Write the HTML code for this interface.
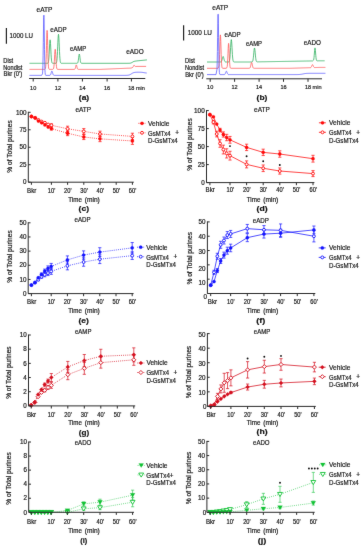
<!DOCTYPE html>
<html><head><meta charset="utf-8"><title>Figure</title>
<style>
html,body{margin:0;padding:0;background:#fff;width:363px;height:550px;overflow:hidden;}
svg{display:block;will-change:transform;}
text{font-family:"Liberation Sans",sans-serif;stroke:#1a1a1a;stroke-width:0.2px;}
</style></head>
<body>
<svg xmlns="http://www.w3.org/2000/svg" width="363" height="550" viewBox="0 0 363 550">
<defs><filter id="soft" x="0" y="0" width="363" height="550" filterUnits="userSpaceOnUse" color-interpolation-filters="sRGB"><feConvolveMatrix order="3" kernelMatrix="0.01 0.05 0.01 0.05 0.76 0.05 0.01 0.05 0.01" divisor="1" edgeMode="duplicate"/></filter></defs>
<g filter="url(#soft)">
<rect x="0" y="0" width="363" height="550" fill="#fff"/>
<line x1="6.4" y1="27.9" x2="6.4" y2="43.7" stroke="#222" stroke-width="1.2"/>
<text x="9.6" y="38.2" font-size="6.8" text-anchor="start" fill="#1a1a1a" textLength="23.4" lengthAdjust="spacingAndGlyphs">1000 LU</text>
<text x="44.5" y="12.4" font-size="6.8" text-anchor="middle" fill="#1a1a1a" textLength="15.9" lengthAdjust="spacingAndGlyphs">eATP</text>
<text x="58.5" y="32" font-size="6.8" text-anchor="middle" fill="#1a1a1a" textLength="16.3" lengthAdjust="spacingAndGlyphs">eADP</text>
<text x="78.1" y="51.4" font-size="6.8" text-anchor="middle" fill="#1a1a1a" textLength="16.1" lengthAdjust="spacingAndGlyphs">eAMP</text>
<text x="135" y="53.8" font-size="6.8" text-anchor="middle" fill="#1a1a1a" textLength="17.4" lengthAdjust="spacingAndGlyphs">eADO</text>
<text x="3.3" y="62.7" font-size="6.4" text-anchor="start" fill="#1a1a1a" textLength="9.9" lengthAdjust="spacingAndGlyphs">Dist</text>
<text x="3.3" y="69.5" font-size="6.4" text-anchor="start" fill="#1a1a1a" textLength="19.1" lengthAdjust="spacingAndGlyphs">Nondist</text>
<text x="3.5" y="76" font-size="6.4" text-anchor="start" fill="#1a1a1a" textLength="18.6" lengthAdjust="spacingAndGlyphs">Bkr (0')</text>
<polyline points="29.5,63.3 30.5,63.3 31.5,63.3 32.5,63.3 33.5,63.3 34.5,63.3 35.5,63.3 36.5,63.3 37.5,63.3 38.5,63.3 39.5,63.3 40.5,63.3 41.5,63.3 42.5,63.3 43.5,63.3 44.5,63.3 45.5,63.3 46.5,63.3 47.5,63.28 47.7,63.23 47.9,63.13 48.1,62.9 48.3,62.44 48.5,61.58 48.7,60.12 48.9,57.89 49.1,54.83 49.3,51.07 49.5,47.02 49.7,43.34 49.9,40.74 50.1,39.8 50.3,40.74 50.5,43.34 50.7,47.02 50.9,51.07 51.1,54.83 51.3,57.89 51.5,60.12 51.7,61.58 51.9,62.44 52.1,62.9 52.3,63.13 52.5,63.23 52.7,63.28 52.9,63.29 53.9,63.3 54.9,63.3 55.9,63.23 56.1,63.13 56.3,62.91 56.5,62.47 56.7,61.67 56.9,60.32 57.1,58.22 57.3,55.24 57.5,51.38 57.7,46.88 57.9,42.24 58.1,38.14 58.3,35.31 58.5,34.3 58.7,35.31 58.9,38.14 59.1,42.24 59.3,46.88 59.5,51.38 59.7,55.24 59.9,58.22 60.1,60.32 60.3,61.67 60.5,62.47 60.7,62.91 60.9,63.13 61.1,63.23 61.3,63.27 61.5,63.29 62.5,63.3 63.5,63.3 64.5,63.3 65.5,63.3 66.5,63.3 67.5,63.3 68.5,63.3 69.5,63.3 70.5,63.3 71.5,63.3 72.5,63.3 73.5,63.3 74.5,63.3 75.5,63.3 76.5,63.3 77.5,63.1 77.7,62.85 77.9,62.39 78.1,61.61 78.3,60.45 78.5,58.94 78.7,57.23 78.9,55.6 79.1,54.43 79.3,54 79.5,54.43 79.7,55.6 79.9,57.23 80.1,58.94 80.3,60.45 80.5,61.61 80.7,62.39 80.9,62.85 81.1,63.1 81.3,63.22 81.5,63.27 81.7,63.29 81.9,63.3 82.9,63.3 83.9,63.3 84.9,63.3 85.9,63.3 86.9,63.3 87.9,63.3 88.9,63.3 89.9,63.3 90.9,63.3 91.9,63.3 92.9,63.3 93.9,63.3 94.9,63.3 95.9,63.3 96.9,63.3 97.9,63.3 98.9,63.3 99.9,63.3 100.9,63.3 101.9,63.3 102.9,63.3 103.9,63.3 104.9,63.3 105.9,63.3 106.9,63.3 107.9,63.3 108.9,63.3 109.9,63.3 110.9,63.3 111.9,63.3 112.9,63.3 113.9,63.3 114.9,63.3 115.9,63.3 116.9,63.3 117.9,63.3 118.9,63.3 119.9,63.3 120.9,63.3 121.9,63.3 122.9,63.3 123.9,63.3 124.9,63.3 125.9,63.3 126.9,63.3 127.9,63.29 128.9,63.28 129.9,63.22 130.9,63.04 131.9,62.59 132.9,61.93 133.9,61.43 134.9,61.2 135.9,61.04 136.9,60.92 137.9,60.81 138.9,60.71 139.9,60.61 140.9,60.51 141.9,60.41 142.9,60.31 143.9,60.21 144.9,60.11 145.9,60.01 146.9,59.91" fill="none" stroke="#30b060" stroke-width="0.8" stroke-linejoin="round"/>
<polyline points="29.5,69.4 30.5,69.4 31.5,69.4 32.5,69.4 33.5,69.4 34.5,69.4 35.5,69.4 36.5,69.4 37.5,69.4 38.5,69.4 39.5,69.4 40.5,69.4 41.5,69.4 42.5,69.4 43.5,69.4 44.5,69.4 45.5,68.29 45.7,66.84 45.9,64.12 46.1,59.68 46.3,53.37 46.5,45.75 46.7,38.17 46.9,32.51 47.1,30.4 47.3,32.51 47.5,38.17 47.7,45.75 47.9,53.37 48.1,59.68 48.3,64.12 48.5,66.84 48.7,68.29 48.9,68.97 49.1,69.25 49.3,69.35 49.5,69.39 50.5,69.4 51.5,69.4 52.5,69.4 53.5,68.74 53.7,67.98 53.9,66.65 54.1,64.55 54.3,61.62 54.5,58.03 54.7,54.3 54.9,51.15 55.1,49.34 55.3,49.34 55.5,51.15 55.7,54.3 55.9,58.03 56.1,61.62 56.3,64.55 56.5,66.65 56.7,67.98 56.9,68.74 57.1,69.12 57.3,69.29 57.5,69.36 57.7,69.39 57.9,69.4 58.9,69.4 59.9,69.4 60.9,69.4 61.9,69.4 62.9,69.4 63.9,69.4 64.9,69.4 65.9,69.4 66.9,69.4 67.9,69.4 68.9,69.4 69.9,69.4 70.9,69.4 71.9,69.4 72.9,69.4 73.9,69.4 74.1,69.39 74.3,69.38 74.5,69.35 74.7,69.27 74.9,69.1 75.1,68.79 75.3,68.28 75.5,67.55 75.7,66.67 75.9,65.8 76.1,65.14 76.3,64.9 76.5,65.14 76.7,65.8 76.9,66.67 77.1,67.55 77.3,68.28 77.5,68.79 77.7,69.1 77.9,69.27 78.1,69.35 78.3,69.38 78.5,69.39 78.7,69.4 79.7,69.4 80.7,69.4 81.7,69.4 82.7,69.4 83.7,69.4 84.7,69.4 85.7,69.4 86.7,69.4 87.7,69.4 88.7,69.4 89.7,69.4 90.7,69.4 91.7,69.4 92.7,69.4 93.7,69.4 94.7,69.4 95.7,69.4 96.7,69.4 97.7,69.4 98.7,69.4 99.7,69.4 100.7,69.37 101.7,69.33 102.7,69.28 103.7,69.24 104.7,69.2 105.7,69.16 106.7,69.11 107.7,69.07 108.7,69.03 109.7,68.98 110.7,68.94 111.7,68.9 112.7,68.86 113.7,68.81 114.7,68.77 115.7,68.73 116.7,68.68 117.7,68.64 118.7,68.6 119.7,68.56 120.7,68.51 121.7,68.47 122.7,68.43 123.7,68.38 124.7,68.34 125.7,68.3 126.7,68.26 127.7,68.21 128.7,68.19 129.7,68.17 130.7,68.1 131.7,67.9 132.7,67.41 132.9,67.21 133.1,66.93 133.3,66.53 133.5,66.06 133.7,65.59 133.9,65.27 134.1,65.19 134.3,65.36 134.5,65.67 134.7,65.99 134.9,66.24 135.1,66.38 135.3,66.44 135.5,66.46 135.7,66.45 135.9,66.45 136.1,66.44 137.1,66.41 138.1,66.4 139.1,66.4 140.1,66.4 141.1,66.4 142.1,66.4 143.1,66.4 144.1,66.4 145.1,66.4 146.1,66.4" fill="none" stroke="#ff5a5a" stroke-width="0.8" stroke-linejoin="round"/>
<polyline points="29.5,75.4 30.5,75.4 31.5,75.4 32.5,75.4 33.5,75.4 34.5,75.4 35.5,75.4 36.5,75.4 37.5,75.4 38.5,75.4 39.5,75.4 40.5,75.4 41.5,75.4 42.5,73.82 42.7,71.1 42.9,65.45 43.1,55.76 43.3,42.36 43.5,28.05 43.7,17.56 43.9,15.2 44.1,22.01 44.3,35.05 44.5,49.41 44.7,61.14 44.9,68.73 45.1,72.74 45.3,74.5 45.5,75.14 45.7,75.34 45.9,75.39 46.9,75.4 47.9,75.4 48.9,75.4 49.9,75.33 50.1,75.24 50.3,75.08 50.5,74.82 50.7,74.41 50.9,73.85 51.1,73.16 51.3,72.42 51.5,71.75 51.7,71.27 51.9,71.1 52.1,71.27 52.3,71.75 52.5,72.42 52.7,73.16 52.9,73.85 53.1,74.41 53.3,74.82 53.5,75.08 53.7,75.24 53.9,75.33 54.1,75.37 54.3,75.39 54.5,75.4 54.7,75.4 55.7,75.4 56.7,75.4 57.7,75.4 58.7,75.4 59.7,75.4 60.7,75.4 61.7,75.4 62.7,75.4 63.7,75.4 64.7,75.4 65.7,75.4 66.7,75.4 67.7,75.4 68.7,75.4 69.7,75.4 70.7,75.4 71.7,75.4 72.7,75.4 73.7,75.4 74.7,75.4 75.7,75.4 76.7,75.4 77.7,75.4 78.7,75.4 79.7,75.4 80.7,75.4 81.7,75.4 82.7,75.4 83.7,75.4 84.7,75.4 85.7,75.4 86.7,75.4 87.7,75.4 88.7,75.4 89.7,75.4 90.7,75.4 91.7,75.4 92.7,75.4 93.7,75.4 94.7,75.4 95.7,75.4 96.7,75.4 97.7,75.4 98.7,75.4 99.7,75.4 100.7,75.4 101.7,75.4 102.7,75.4 103.7,75.4 104.7,75.4 105.7,75.4 106.7,75.4 107.7,75.4 108.7,75.4 109.7,75.4 110.7,75.4 111.7,75.4 112.7,75.4 113.7,75.4 114.7,75.4 115.7,75.4 116.7,75.4 117.7,75.4 118.7,75.4 119.7,75.4 120.7,75.4 121.7,75.4 122.7,75.4 123.7,75.4 124.7,75.39 125.7,75.37 126.7,75.34 127.7,75.27 128.7,75.12 129.7,74.82 130.7,74.31 131.7,73.67 132.7,73.06 133.7,72.64 134.7,72.41 135.7,72.29 136.7,72.24 137.7,72.22 138.7,72.22 139.7,72.23 140.7,72.26 141.7,72.32 142.7,72.43 143.7,72.59 144.7,72.78 145.7,72.92 146.7,73.01" fill="none" stroke="#5c5cff" stroke-width="0.8" stroke-linejoin="round"/>
<line x1="29.1" y1="78.5" x2="145.3" y2="78.5" stroke="#2a2a2a" stroke-width="1"/>
<line x1="33.2" y1="78.5" x2="33.2" y2="81.5" stroke="#2a2a2a" stroke-width="1"/>
<text x="33.2" y="89.6" font-size="6.2" text-anchor="middle" fill="#1a1a1a" textLength="6.2" lengthAdjust="spacingAndGlyphs">10</text>
<line x1="57.9" y1="78.5" x2="57.9" y2="81.5" stroke="#2a2a2a" stroke-width="1"/>
<text x="57.9" y="89.6" font-size="6.2" text-anchor="middle" fill="#1a1a1a" textLength="6.2" lengthAdjust="spacingAndGlyphs">12</text>
<line x1="82.4" y1="78.5" x2="82.4" y2="81.5" stroke="#2a2a2a" stroke-width="1"/>
<text x="82.4" y="89.6" font-size="6.2" text-anchor="middle" fill="#1a1a1a" textLength="6.2" lengthAdjust="spacingAndGlyphs">14</text>
<line x1="107.1" y1="78.5" x2="107.1" y2="81.5" stroke="#2a2a2a" stroke-width="1"/>
<text x="107.1" y="89.6" font-size="6.2" text-anchor="middle" fill="#1a1a1a" textLength="6.2" lengthAdjust="spacingAndGlyphs">16</text>
<line x1="131.4" y1="78.5" x2="131.4" y2="81.5" stroke="#2a2a2a" stroke-width="1"/>
<text x="128.3" y="89.6" font-size="6.2" text-anchor="start" fill="#1a1a1a" textLength="16.6" lengthAdjust="spacingAndGlyphs">18 min</text>
<text x="84" y="100.4" font-size="7.6" text-anchor="middle" fill="#111" textLength="10.4" lengthAdjust="spacingAndGlyphs" font-weight="bold">(a)</text>
<line x1="183.6" y1="25.2" x2="183.6" y2="40.6" stroke="#222" stroke-width="1.2"/>
<text x="187.7" y="35.3" font-size="6.8" text-anchor="start" fill="#1a1a1a" textLength="24.2" lengthAdjust="spacingAndGlyphs">1000 LU</text>
<text x="220.2" y="10" font-size="6.8" text-anchor="middle" fill="#1a1a1a" textLength="15.9" lengthAdjust="spacingAndGlyphs">eATP</text>
<text x="232.6" y="37" font-size="6.8" text-anchor="middle" fill="#1a1a1a" textLength="16.3" lengthAdjust="spacingAndGlyphs">eADP</text>
<text x="254" y="45.6" font-size="6.8" text-anchor="middle" fill="#1a1a1a" textLength="16.1" lengthAdjust="spacingAndGlyphs">eAMP</text>
<text x="312.4" y="45" font-size="6.8" text-anchor="middle" fill="#1a1a1a" textLength="17.2" lengthAdjust="spacingAndGlyphs">eADO</text>
<text x="185" y="63.1" font-size="6.4" text-anchor="start" fill="#1a1a1a" textLength="9.9" lengthAdjust="spacingAndGlyphs">Dist</text>
<text x="185" y="70.3" font-size="6.4" text-anchor="start" fill="#1a1a1a" textLength="19.1" lengthAdjust="spacingAndGlyphs">Nondist</text>
<text x="185.2" y="77.1" font-size="6.4" text-anchor="start" fill="#1a1a1a" textLength="18.6" lengthAdjust="spacingAndGlyphs">Bkr (0')</text>
<polyline points="207,62 208,62 209,62 210,62 211,62 212,62 213,62 214,62 215,62 216,62 217,62 218,62 219,62 220,62 220.2,61.99 220.4,61.98 220.6,61.96 220.8,61.91 221,61.82 221.2,61.67 221.4,61.42 221.6,61.05 221.8,60.53 222,59.86 222.2,59.08 222.4,58.25 222.6,57.48 222.8,56.87 223,56.54 223.2,56.54 223.4,56.87 223.6,57.48 223.8,58.25 224,59.08 224.2,59.86 224.4,60.53 224.6,61.05 224.8,61.42 225,61.67 225.2,61.82 225.4,61.91 225.6,61.96 225.8,61.98 226,61.99 226.2,62 226.4,62 227.4,62 228.4,61.99 228.6,61.97 228.8,61.91 229,61.8 229.2,61.55 229.4,61.09 229.6,60.28 229.8,58.95 230,56.99 230.2,54.33 230.4,51.05 230.6,47.44 230.8,43.98 231,41.23 231.2,39.7 231.4,39.7 231.6,41.23 231.8,43.98 232,47.44 232.2,51.05 232.4,54.33 232.6,56.99 232.8,58.95 233,60.28 233.2,61.09 233.4,61.55 233.6,61.8 233.8,61.91 234,61.97 234.2,61.99 234.4,62 235.4,62 236.4,62 237.4,62 238.4,62 239.4,62 240.4,62 241.4,62 242.4,62 243.4,62 244.4,62 245.4,62 246.4,62 247.4,62 248.4,62 249.4,62 250.4,61.99 251.4,61.97 252.4,61.68 252.6,61.39 252.8,60.88 253,60.05 253.2,58.83 253.4,57.17 253.6,55.12 253.8,52.88 254,50.72 254.2,49 254.4,48.05 254.6,48.05 254.8,48.99 255,50.7 255.2,52.85 255.4,55.09 255.6,57.13 255.8,58.78 256,60 256.2,60.82 256.4,61.32 256.6,61.61 256.8,61.76 257,61.83 257.2,61.86 257.4,61.87 257.6,61.87 258.6,61.85 259.6,61.84 260.6,61.82 261.6,61.8 262.6,61.78 263.6,61.77 264.6,61.75 265.6,61.73 266.6,61.72 267.6,61.7 268.6,61.68 269.6,61.66 270.6,61.65 271.6,61.63 272.6,61.61 273.6,61.6 274.6,61.58 275.6,61.56 276.6,61.54 277.6,61.53 278.6,61.51 279.6,61.49 280.6,61.48 281.6,61.46 282.6,61.44 283.6,61.42 284.6,61.41 285.6,61.39 286.6,61.37 287.6,61.36 288.6,61.34 289.6,61.32 290.6,61.3 291.6,61.29 292.6,61.27 293.6,61.25 294.6,61.24 295.6,61.22 296.6,61.2 297.6,61.18 298.6,61.17 299.6,61.15 300.6,61.13 301.6,61.12 302.6,61.1 303.6,61.08 304.6,61.06 305.6,61.05 306.6,61.03 307.6,61.01 308.6,61 309.6,60.98 310.6,60.96 311.6,60.94 312.6,60.92 313.6,60.06 313.8,59.15 314,57.66 314.2,55.55 314.4,53.01 314.6,50.48 314.8,48.59 315,47.89 315.2,48.58 315.4,50.47 315.6,52.99 315.8,55.53 316,57.63 316.2,59.11 316.4,60.01 316.6,60.49 316.8,60.71 317,60.8 317.2,60.83 317.4,60.84 317.6,60.84 318.6,60.82 319.6,60.81 320.6,60.8 321.6,60.8 322.6,60.8 323.6,60.8 324.6,60.8" fill="none" stroke="#30b060" stroke-width="0.8" stroke-linejoin="round"/>
<polyline points="207,68.3 208,68.3 209,68.3 210,68.3 211,68.3 212,68.3 213,68.3 214,68.3 215,68.3 216,68.3 217,68.3 218,68.29 219,66.1 219.2,63.78 219.4,59.97 219.6,54.57 219.8,48.04 220,41.56 220.2,36.7 220.4,34.9 220.6,36.7 220.8,41.56 221,48.04 221.2,54.57 221.4,59.97 221.6,63.78 221.8,66.1 222,67.35 222.2,67.93 222.4,68.17 222.6,68.26 222.8,68.29 223,68.3 224,68.3 225,68.3 226,68.3 227,67.59 227.2,66.66 227.4,64.93 227.6,62.09 227.8,58.06 228,53.2 228.2,48.36 228.4,44.75 228.6,43.4 228.8,44.75 229,48.36 229.2,53.2 229.4,58.06 229.6,62.09 229.8,64.93 230,66.66 230.2,67.59 230.4,68.02 230.6,68.2 230.8,68.27 231,68.29 231.2,68.3 232.2,68.3 233.2,68.3 234.2,68.3 235.2,68.3 236.2,68.3 237.2,68.3 238.2,68.3 239.2,68.3 240.2,68.3 241.2,68.3 242.2,68.3 243.2,68.3 244.2,68.3 245.2,68.3 246.2,68.3 247.2,68.3 248.2,68.3 249.2,68.28 249.4,68.26 249.6,68.2 249.8,68.08 250,67.87 250.2,67.5 250.4,66.94 250.6,66.17 250.8,65.23 251,64.21 251.2,63.29 251.4,62.64 251.6,62.4 251.8,62.64 252,63.29 252.2,64.21 252.4,65.23 252.6,66.17 252.8,66.94 253,67.5 253.2,67.87 253.4,68.08 253.6,68.2 253.8,68.26 254,68.28 254.2,68.29 254.4,68.3 254.6,68.3 255.6,68.3 256.6,68.3 257.6,68.3 258.6,68.3 259.6,68.3 260.6,68.3 261.6,68.3 262.6,68.3 263.6,68.3 264.6,68.3 265.6,68.3 266.6,68.3 267.6,68.3 268.6,68.3 269.6,68.3 270.6,68.3 271.6,68.3 272.6,68.3 273.6,68.3 274.6,68.3 275.6,68.3 276.6,68.3 277.6,68.3 278.6,68.3 279.6,68.3 280.6,68.3 281.6,68.3 282.6,68.3 283.6,68.3 284.6,68.3 285.6,68.3 286.6,68.3 287.6,68.3 288.6,68.3 289.6,68.3 290.6,68.28 291.6,68.25 292.6,68.22 293.6,68.19 294.6,68.16 295.6,68.13 296.6,68.1 297.6,68.07 298.6,68.04 299.6,68.01 300.6,67.98 301.6,67.95 302.6,67.92 303.6,67.89 304.6,67.86 305.6,67.83 306.6,67.8 307.6,67.77 308.6,67.74 309.6,67.71 310.6,67.61 310.8,67.52 311,67.37 311.2,67.13 311.4,66.79 311.6,66.34 311.8,65.83 312,65.32 312.2,64.9 312.4,64.66 312.6,64.65 312.8,64.88 313,65.29 313.2,65.78 313.4,66.29 313.6,66.72 313.8,67.05 314,67.28 314.2,67.42 314.4,67.49 314.6,67.53 314.8,67.54 315,67.54 315.2,67.54 315.4,67.54 316.4,67.51 317.4,67.48 318.4,67.45 319.4,67.42 320.4,67.4 321.4,67.4 322.4,67.4 323.4,67.4 324.4,67.4 325.4,67.4" fill="none" stroke="#ff5a5a" stroke-width="0.8" stroke-linejoin="round"/>
<polyline points="207,74.6 208,74.6 209,74.6 210,74.6 211,74.6 212,74.6 213,74.6 214,74.6 215,74.6 216,74.59 217,69.12 217.2,62.41 217.4,51.48 217.6,37.24 217.8,23.15 218,14.22 218.2,14.22 218.4,23.15 218.6,37.24 218.8,51.48 219,62.41 219.2,69.12 219.4,72.5 219.6,73.92 219.8,74.41 220,74.55 220.2,74.59 221.2,74.6 222.2,74.6 223.2,74.6 224.2,74.58 224.4,74.54 224.6,74.48 224.8,74.35 225,74.14 225.2,73.82 225.4,73.37 225.6,72.83 225.8,72.25 226,71.71 226.2,71.34 226.4,71.2 226.6,71.34 226.8,71.71 227,72.25 227.2,72.83 227.4,73.37 227.6,73.82 227.8,74.14 228,74.35 228.2,74.48 228.4,74.54 228.6,74.58 228.8,74.59 229,74.6 229.2,74.6 229.4,74.6 230.4,74.6 231.4,74.6 232.4,74.6 233.4,74.6 234.4,74.6 235.4,74.6 236.4,74.6 237.4,74.6 238.4,74.6 239.4,74.6 240.4,74.6 241.4,74.6 242.4,74.6 243.4,74.6 244.4,74.6 245.4,74.6 246.4,74.6 247.4,74.6 248.4,74.6 249.4,74.6 250.4,74.6 251.4,74.6 252.4,74.6 253.4,74.6 254.4,74.6 255.4,74.6 256.4,74.6 257.4,74.6 258.4,74.6 259.4,74.6 260.4,74.6 261.4,74.6 262.4,74.6 263.4,74.6 264.4,74.6 265.4,74.6 266.4,74.6 267.4,74.6 268.4,74.6 269.4,74.6 270.4,74.6 271.4,74.6 272.4,74.6 273.4,74.6 274.4,74.6 275.4,74.6 276.4,74.6 277.4,74.6 278.4,74.6 279.4,74.6 280.4,74.6 281.4,74.6 282.4,74.6 283.4,74.6 284.4,74.6 285.4,74.6 286.4,74.6 287.4,74.6 288.4,74.6 289.4,74.6 290.4,74.6 291.4,74.6 292.4,74.6 293.4,74.6 294.4,74.6 295.4,74.59 296.4,74.58 297.4,74.57 298.4,74.54 299.4,74.49 300.4,74.4 301.4,74.27 302.4,74.08 303.4,73.86 304.4,73.67 305.4,73.52 306.4,73.42 307.4,73.37 308.4,73.33 309.4,73.32 310.4,73.31 311.4,73.3 312.4,73.3 313.4,73.3 314.4,73.3 315.4,73.3 316.4,73.3 317.4,73.3 318.4,73.3 319.4,73.3 320.4,73.3 321.4,73.3 322.4,73.3 323.4,73.3 324.4,73.3 325.4,73.3" fill="none" stroke="#5c5cff" stroke-width="0.8" stroke-linejoin="round"/>
<line x1="206.3" y1="78.8" x2="322" y2="78.8" stroke="#2a2a2a" stroke-width="1"/>
<line x1="210.2" y1="78.8" x2="210.2" y2="81.8" stroke="#2a2a2a" stroke-width="1"/>
<text x="210.2" y="89.3" font-size="6.2" text-anchor="middle" fill="#1a1a1a" textLength="6.2" lengthAdjust="spacingAndGlyphs">10</text>
<line x1="234.6" y1="78.8" x2="234.6" y2="81.8" stroke="#2a2a2a" stroke-width="1"/>
<text x="234.6" y="89.3" font-size="6.2" text-anchor="middle" fill="#1a1a1a" textLength="6.2" lengthAdjust="spacingAndGlyphs">12</text>
<line x1="259.1" y1="78.8" x2="259.1" y2="81.8" stroke="#2a2a2a" stroke-width="1"/>
<text x="259.1" y="89.3" font-size="6.2" text-anchor="middle" fill="#1a1a1a" textLength="6.2" lengthAdjust="spacingAndGlyphs">14</text>
<line x1="283.5" y1="78.8" x2="283.5" y2="81.8" stroke="#2a2a2a" stroke-width="1"/>
<text x="283.5" y="89.3" font-size="6.2" text-anchor="middle" fill="#1a1a1a" textLength="6.2" lengthAdjust="spacingAndGlyphs">16</text>
<line x1="308" y1="78.8" x2="308" y2="81.8" stroke="#2a2a2a" stroke-width="1"/>
<text x="304.9" y="89.3" font-size="6.2" text-anchor="start" fill="#1a1a1a" textLength="16.6" lengthAdjust="spacingAndGlyphs">18 min</text>
<text x="262" y="100.2" font-size="7.6" text-anchor="middle" fill="#111" textLength="10.8" lengthAdjust="spacingAndGlyphs" font-weight="bold">(b)</text>
<polyline points="31.4,116.49 35.2,117.89 38.44,121.04 41.68,122.78 44.92,124.88 48.16,126.98 51.4,128.59 67.6,133.27 83.8,136.97 100,138.86 132.4,140.96" fill="none" stroke="#ff0a0a" stroke-width="0.7" stroke-dasharray="1,1.1"/>
<polyline points="31.4,116.49 35.2,117.89 38.44,119.92 41.68,121.6 44.92,122.78 48.16,124.53 51.4,125.3 67.6,128.8 83.8,131.38 100,133.97 132.4,136.42" fill="none" stroke="#ff0a0a" stroke-width="0.7" stroke-dasharray="1,1.1"/>
<line x1="51.4" y1="127.09" x2="51.4" y2="130.09" stroke="#ff0a0a" stroke-width="0.7"/>
<line x1="49.8" y1="127.09" x2="53" y2="127.09" stroke="#ff0a0a" stroke-width="0.7"/>
<line x1="49.8" y1="130.09" x2="53" y2="130.09" stroke="#ff0a0a" stroke-width="0.7"/>
<line x1="67.6" y1="130.87" x2="67.6" y2="135.67" stroke="#ff0a0a" stroke-width="0.7"/>
<line x1="66" y1="130.87" x2="69.2" y2="130.87" stroke="#ff0a0a" stroke-width="0.7"/>
<line x1="66" y1="135.67" x2="69.2" y2="135.67" stroke="#ff0a0a" stroke-width="0.7"/>
<line x1="83.8" y1="134.37" x2="83.8" y2="139.57" stroke="#ff0a0a" stroke-width="0.7"/>
<line x1="82.2" y1="134.37" x2="85.4" y2="134.37" stroke="#ff0a0a" stroke-width="0.7"/>
<line x1="82.2" y1="139.57" x2="85.4" y2="139.57" stroke="#ff0a0a" stroke-width="0.7"/>
<line x1="100" y1="136.06" x2="100" y2="141.66" stroke="#ff0a0a" stroke-width="0.7"/>
<line x1="98.4" y1="136.06" x2="101.6" y2="136.06" stroke="#ff0a0a" stroke-width="0.7"/>
<line x1="98.4" y1="141.66" x2="101.6" y2="141.66" stroke="#ff0a0a" stroke-width="0.7"/>
<line x1="132.4" y1="137.56" x2="132.4" y2="144.36" stroke="#ff0a0a" stroke-width="0.7"/>
<line x1="130.8" y1="137.56" x2="134" y2="137.56" stroke="#ff0a0a" stroke-width="0.7"/>
<line x1="130.8" y1="144.36" x2="134" y2="144.36" stroke="#ff0a0a" stroke-width="0.7"/>
<line x1="51.4" y1="123.8" x2="51.4" y2="126.8" stroke="#ff0a0a" stroke-width="0.7"/>
<line x1="49.8" y1="123.8" x2="53" y2="123.8" stroke="#ff0a0a" stroke-width="0.7"/>
<line x1="49.8" y1="126.8" x2="53" y2="126.8" stroke="#ff0a0a" stroke-width="0.7"/>
<line x1="67.6" y1="126.2" x2="67.6" y2="131.4" stroke="#ff0a0a" stroke-width="0.7"/>
<line x1="66" y1="126.2" x2="69.2" y2="126.2" stroke="#ff0a0a" stroke-width="0.7"/>
<line x1="66" y1="131.4" x2="69.2" y2="131.4" stroke="#ff0a0a" stroke-width="0.7"/>
<line x1="83.8" y1="128.58" x2="83.8" y2="134.18" stroke="#ff0a0a" stroke-width="0.7"/>
<line x1="82.2" y1="128.58" x2="85.4" y2="128.58" stroke="#ff0a0a" stroke-width="0.7"/>
<line x1="82.2" y1="134.18" x2="85.4" y2="134.18" stroke="#ff0a0a" stroke-width="0.7"/>
<line x1="100" y1="131.17" x2="100" y2="136.77" stroke="#ff0a0a" stroke-width="0.7"/>
<line x1="98.4" y1="131.17" x2="101.6" y2="131.17" stroke="#ff0a0a" stroke-width="0.7"/>
<line x1="98.4" y1="136.77" x2="101.6" y2="136.77" stroke="#ff0a0a" stroke-width="0.7"/>
<line x1="132.4" y1="133.22" x2="132.4" y2="139.62" stroke="#ff0a0a" stroke-width="0.7"/>
<line x1="130.8" y1="133.22" x2="134" y2="133.22" stroke="#ff0a0a" stroke-width="0.7"/>
<line x1="130.8" y1="139.62" x2="134" y2="139.62" stroke="#ff0a0a" stroke-width="0.7"/>
<circle cx="31.4" cy="116.49" r="1.45" fill="#fff" stroke="#ff0a0a" stroke-width="0.9"/>
<circle cx="35.2" cy="117.89" r="1.45" fill="#fff" stroke="#ff0a0a" stroke-width="0.9"/>
<circle cx="38.44" cy="119.92" r="1.45" fill="#fff" stroke="#ff0a0a" stroke-width="0.9"/>
<circle cx="41.68" cy="121.6" r="1.45" fill="#fff" stroke="#ff0a0a" stroke-width="0.9"/>
<circle cx="44.92" cy="122.78" r="1.45" fill="#fff" stroke="#ff0a0a" stroke-width="0.9"/>
<circle cx="48.16" cy="124.53" r="1.45" fill="#fff" stroke="#ff0a0a" stroke-width="0.9"/>
<circle cx="51.4" cy="125.3" r="1.45" fill="#fff" stroke="#ff0a0a" stroke-width="0.9"/>
<circle cx="67.6" cy="128.8" r="1.45" fill="#fff" stroke="#ff0a0a" stroke-width="0.9"/>
<circle cx="83.8" cy="131.38" r="1.45" fill="#fff" stroke="#ff0a0a" stroke-width="0.9"/>
<circle cx="100" cy="133.97" r="1.45" fill="#fff" stroke="#ff0a0a" stroke-width="0.9"/>
<circle cx="132.4" cy="136.42" r="1.45" fill="#fff" stroke="#ff0a0a" stroke-width="0.9"/>
<circle cx="31.4" cy="116.49" r="1.65" fill="#ff0a0a" stroke="#ff0a0a" stroke-width="0.2"/>
<circle cx="35.2" cy="117.89" r="1.65" fill="#ff0a0a" stroke="#ff0a0a" stroke-width="0.2"/>
<circle cx="38.44" cy="121.04" r="1.65" fill="#ff0a0a" stroke="#ff0a0a" stroke-width="0.2"/>
<circle cx="41.68" cy="122.78" r="1.65" fill="#ff0a0a" stroke="#ff0a0a" stroke-width="0.2"/>
<circle cx="44.92" cy="124.88" r="1.65" fill="#ff0a0a" stroke="#ff0a0a" stroke-width="0.2"/>
<circle cx="48.16" cy="126.98" r="1.65" fill="#ff0a0a" stroke="#ff0a0a" stroke-width="0.2"/>
<circle cx="51.4" cy="128.59" r="1.65" fill="#ff0a0a" stroke="#ff0a0a" stroke-width="0.2"/>
<circle cx="67.6" cy="133.27" r="1.65" fill="#ff0a0a" stroke="#ff0a0a" stroke-width="0.2"/>
<circle cx="83.8" cy="136.97" r="1.65" fill="#ff0a0a" stroke="#ff0a0a" stroke-width="0.2"/>
<circle cx="100" cy="138.86" r="1.65" fill="#ff0a0a" stroke="#ff0a0a" stroke-width="0.2"/>
<circle cx="132.4" cy="140.96" r="1.65" fill="#ff0a0a" stroke="#ff0a0a" stroke-width="0.2"/>
<path d="M28.3 111.8V182.2H133.8" fill="none" stroke="#2a2a2a" stroke-width="1"/>
<line x1="28.3" y1="182.2" x2="30.6" y2="182.2" stroke="#2a2a2a" stroke-width="1"/>
<text x="26.5" y="184.4" font-size="6.3" text-anchor="end" fill="#1a1a1a" textLength="3.5" lengthAdjust="spacingAndGlyphs">0</text>
<line x1="28.3" y1="164.72" x2="30.6" y2="164.72" stroke="#2a2a2a" stroke-width="1"/>
<text x="26.5" y="166.92" font-size="6.3" text-anchor="end" fill="#1a1a1a" textLength="7" lengthAdjust="spacingAndGlyphs">25</text>
<line x1="28.3" y1="147.25" x2="30.6" y2="147.25" stroke="#2a2a2a" stroke-width="1"/>
<text x="26.5" y="149.45" font-size="6.3" text-anchor="end" fill="#1a1a1a" textLength="7" lengthAdjust="spacingAndGlyphs">50</text>
<line x1="28.3" y1="129.78" x2="30.6" y2="129.78" stroke="#2a2a2a" stroke-width="1"/>
<text x="26.5" y="131.97" font-size="6.3" text-anchor="end" fill="#1a1a1a" textLength="7" lengthAdjust="spacingAndGlyphs">75</text>
<line x1="28.3" y1="112.3" x2="30.6" y2="112.3" stroke="#2a2a2a" stroke-width="1"/>
<text x="26.5" y="114.5" font-size="6.3" text-anchor="end" fill="#1a1a1a" textLength="10.6" lengthAdjust="spacingAndGlyphs">100</text>
<line x1="31.4" y1="182.2" x2="31.4" y2="184.8" stroke="#2a2a2a" stroke-width="1"/>
<text x="31.7" y="192.6" font-size="6.3" text-anchor="middle" fill="#1a1a1a" textLength="9.2" lengthAdjust="spacingAndGlyphs">Bkr</text>
<line x1="51.4" y1="182.2" x2="51.4" y2="184.8" stroke="#2a2a2a" stroke-width="1"/>
<text x="51.6" y="192.6" font-size="6.3" text-anchor="middle" fill="#1a1a1a" textLength="7.5" lengthAdjust="spacingAndGlyphs">10'</text>
<line x1="67.6" y1="182.2" x2="67.6" y2="184.8" stroke="#2a2a2a" stroke-width="1"/>
<text x="67.8" y="192.6" font-size="6.3" text-anchor="middle" fill="#1a1a1a" textLength="7.5" lengthAdjust="spacingAndGlyphs">20'</text>
<line x1="83.8" y1="182.2" x2="83.8" y2="184.8" stroke="#2a2a2a" stroke-width="1"/>
<text x="84" y="192.6" font-size="6.3" text-anchor="middle" fill="#1a1a1a" textLength="7.5" lengthAdjust="spacingAndGlyphs">30'</text>
<line x1="100" y1="182.2" x2="100" y2="184.8" stroke="#2a2a2a" stroke-width="1"/>
<text x="100.2" y="192.6" font-size="6.3" text-anchor="middle" fill="#1a1a1a" textLength="7.5" lengthAdjust="spacingAndGlyphs">40'</text>
<line x1="116.2" y1="182.2" x2="116.2" y2="184.8" stroke="#2a2a2a" stroke-width="1"/>
<text x="116.4" y="192.6" font-size="6.3" text-anchor="middle" fill="#1a1a1a" textLength="7.5" lengthAdjust="spacingAndGlyphs">50'</text>
<line x1="132.4" y1="182.2" x2="132.4" y2="184.8" stroke="#2a2a2a" stroke-width="1"/>
<text x="132.6" y="192.6" font-size="6.3" text-anchor="middle" fill="#1a1a1a" textLength="7.5" lengthAdjust="spacingAndGlyphs">60'</text>
<text x="68.3" y="201.8" font-size="6.8" text-anchor="start" fill="#1a1a1a" textLength="13.6" lengthAdjust="spacingAndGlyphs">Time</text>
<text x="84.8" y="201.8" font-size="6.8" text-anchor="start" fill="#1a1a1a" textLength="15" lengthAdjust="spacingAndGlyphs">(min)</text>
<text x="83.8" y="211" font-size="7.6" text-anchor="middle" fill="#111" textLength="10.4" lengthAdjust="spacingAndGlyphs" font-weight="bold">(c)</text>
<text x="83.3" y="111.7" font-size="6.8" text-anchor="middle" fill="#1a1a1a" textLength="15.8" lengthAdjust="spacingAndGlyphs">eATP</text>
<text x="0" y="0" font-size="6.8" text-anchor="middle" fill="#1a1a1a" textLength="52.5" lengthAdjust="spacingAndGlyphs" transform="translate(11.7,146.5) rotate(-90)">% of Total purines</text>
<line x1="138.4" y1="123.3" x2="145.4" y2="123.3" stroke="#ff0a0a" stroke-width="0.8" stroke-dasharray="1,1.1"/>
<circle cx="142" cy="123.3" r="1.65" fill="#ff0a0a" stroke="#ff0a0a" stroke-width="0.2"/>
<line x1="138.4" y1="132.8" x2="145.4" y2="132.8" stroke="#ff0a0a" stroke-width="0.8" stroke-dasharray="1,1.1"/>
<circle cx="142" cy="132.8" r="1.45" fill="#fff" stroke="#ff0a0a" stroke-width="0.9"/>
<text x="148.1" y="125.7" font-size="6.8" text-anchor="start" fill="#1a1a1a" textLength="21.2" lengthAdjust="spacingAndGlyphs">Vehicle</text>
<text x="148.1" y="135.6" font-size="6.8" text-anchor="start" fill="#1a1a1a" textLength="22.6" lengthAdjust="spacingAndGlyphs">GsMTx4</text>
<text x="175.3" y="135.4" font-size="6.4" text-anchor="start" fill="#1a1a1a">+</text>
<text x="148.1" y="143.2" font-size="6.8" text-anchor="start" fill="#1a1a1a" textLength="29.6" lengthAdjust="spacingAndGlyphs">D-GsMTx4</text>
<polyline points="209.9,114.63 213.4,116.79 216.72,124.06 220.04,130.11 223.36,134.5 226.68,137.53 230,139.83 246.6,147.39 263.2,152.36 279.8,154.02 313,158.7" fill="none" stroke="#ff0a0a" stroke-width="0.75"/>
<polyline points="209.9,114.63 213.4,122.12 216.72,134.07 220.04,143.5 223.36,149.55 226.68,153.37 230,155.67 246.6,164.38 263.2,168.27 279.8,171.01 313,173.6" fill="none" stroke="#ff0a0a" stroke-width="0.75"/>
<line x1="220.04" y1="128.31" x2="220.04" y2="131.91" stroke="#ff0a0a" stroke-width="0.7"/>
<line x1="218.44" y1="128.31" x2="221.64" y2="128.31" stroke="#ff0a0a" stroke-width="0.7"/>
<line x1="218.44" y1="131.91" x2="221.64" y2="131.91" stroke="#ff0a0a" stroke-width="0.7"/>
<line x1="223.36" y1="131.9" x2="223.36" y2="137.1" stroke="#ff0a0a" stroke-width="0.7"/>
<line x1="221.76" y1="131.9" x2="224.96" y2="131.9" stroke="#ff0a0a" stroke-width="0.7"/>
<line x1="221.76" y1="137.1" x2="224.96" y2="137.1" stroke="#ff0a0a" stroke-width="0.7"/>
<line x1="226.68" y1="134.33" x2="226.68" y2="140.73" stroke="#ff0a0a" stroke-width="0.7"/>
<line x1="225.08" y1="134.33" x2="228.28" y2="134.33" stroke="#ff0a0a" stroke-width="0.7"/>
<line x1="225.08" y1="140.73" x2="228.28" y2="140.73" stroke="#ff0a0a" stroke-width="0.7"/>
<line x1="230" y1="136.43" x2="230" y2="143.23" stroke="#ff0a0a" stroke-width="0.7"/>
<line x1="228.4" y1="136.43" x2="231.6" y2="136.43" stroke="#ff0a0a" stroke-width="0.7"/>
<line x1="228.4" y1="143.23" x2="231.6" y2="143.23" stroke="#ff0a0a" stroke-width="0.7"/>
<line x1="246.6" y1="144.19" x2="246.6" y2="150.59" stroke="#ff0a0a" stroke-width="0.7"/>
<line x1="245" y1="144.19" x2="248.2" y2="144.19" stroke="#ff0a0a" stroke-width="0.7"/>
<line x1="245" y1="150.59" x2="248.2" y2="150.59" stroke="#ff0a0a" stroke-width="0.7"/>
<line x1="263.2" y1="149.16" x2="263.2" y2="155.56" stroke="#ff0a0a" stroke-width="0.7"/>
<line x1="261.6" y1="149.16" x2="264.8" y2="149.16" stroke="#ff0a0a" stroke-width="0.7"/>
<line x1="261.6" y1="155.56" x2="264.8" y2="155.56" stroke="#ff0a0a" stroke-width="0.7"/>
<line x1="279.8" y1="150.82" x2="279.8" y2="157.22" stroke="#ff0a0a" stroke-width="0.7"/>
<line x1="278.2" y1="150.82" x2="281.4" y2="150.82" stroke="#ff0a0a" stroke-width="0.7"/>
<line x1="278.2" y1="157.22" x2="281.4" y2="157.22" stroke="#ff0a0a" stroke-width="0.7"/>
<line x1="313" y1="155.3" x2="313" y2="162.1" stroke="#ff0a0a" stroke-width="0.7"/>
<line x1="311.4" y1="155.3" x2="314.6" y2="155.3" stroke="#ff0a0a" stroke-width="0.7"/>
<line x1="311.4" y1="162.1" x2="314.6" y2="162.1" stroke="#ff0a0a" stroke-width="0.7"/>
<line x1="213.4" y1="120.32" x2="213.4" y2="123.92" stroke="#ff0a0a" stroke-width="0.7"/>
<line x1="211.8" y1="120.32" x2="215" y2="120.32" stroke="#ff0a0a" stroke-width="0.7"/>
<line x1="211.8" y1="123.92" x2="215" y2="123.92" stroke="#ff0a0a" stroke-width="0.7"/>
<line x1="216.72" y1="131.27" x2="216.72" y2="136.87" stroke="#ff0a0a" stroke-width="0.7"/>
<line x1="215.12" y1="131.27" x2="218.32" y2="131.27" stroke="#ff0a0a" stroke-width="0.7"/>
<line x1="215.12" y1="136.87" x2="218.32" y2="136.87" stroke="#ff0a0a" stroke-width="0.7"/>
<line x1="220.04" y1="139.7" x2="220.04" y2="147.3" stroke="#ff0a0a" stroke-width="0.7"/>
<line x1="218.44" y1="139.7" x2="221.64" y2="139.7" stroke="#ff0a0a" stroke-width="0.7"/>
<line x1="218.44" y1="147.3" x2="221.64" y2="147.3" stroke="#ff0a0a" stroke-width="0.7"/>
<line x1="223.36" y1="145.15" x2="223.36" y2="153.95" stroke="#ff0a0a" stroke-width="0.7"/>
<line x1="221.76" y1="145.15" x2="224.96" y2="145.15" stroke="#ff0a0a" stroke-width="0.7"/>
<line x1="221.76" y1="153.95" x2="224.96" y2="153.95" stroke="#ff0a0a" stroke-width="0.7"/>
<line x1="226.68" y1="148.77" x2="226.68" y2="157.97" stroke="#ff0a0a" stroke-width="0.7"/>
<line x1="225.08" y1="148.77" x2="228.28" y2="148.77" stroke="#ff0a0a" stroke-width="0.7"/>
<line x1="225.08" y1="157.97" x2="228.28" y2="157.97" stroke="#ff0a0a" stroke-width="0.7"/>
<line x1="230" y1="151.27" x2="230" y2="160.07" stroke="#ff0a0a" stroke-width="0.7"/>
<line x1="228.4" y1="151.27" x2="231.6" y2="151.27" stroke="#ff0a0a" stroke-width="0.7"/>
<line x1="228.4" y1="160.07" x2="231.6" y2="160.07" stroke="#ff0a0a" stroke-width="0.7"/>
<line x1="246.6" y1="160.88" x2="246.6" y2="167.88" stroke="#ff0a0a" stroke-width="0.7"/>
<line x1="245" y1="160.88" x2="248.2" y2="160.88" stroke="#ff0a0a" stroke-width="0.7"/>
<line x1="245" y1="167.88" x2="248.2" y2="167.88" stroke="#ff0a0a" stroke-width="0.7"/>
<line x1="263.2" y1="164.97" x2="263.2" y2="171.57" stroke="#ff0a0a" stroke-width="0.7"/>
<line x1="261.6" y1="164.97" x2="264.8" y2="164.97" stroke="#ff0a0a" stroke-width="0.7"/>
<line x1="261.6" y1="171.57" x2="264.8" y2="171.57" stroke="#ff0a0a" stroke-width="0.7"/>
<line x1="279.8" y1="167.91" x2="279.8" y2="174.11" stroke="#ff0a0a" stroke-width="0.7"/>
<line x1="278.2" y1="167.91" x2="281.4" y2="167.91" stroke="#ff0a0a" stroke-width="0.7"/>
<line x1="278.2" y1="174.11" x2="281.4" y2="174.11" stroke="#ff0a0a" stroke-width="0.7"/>
<line x1="313" y1="170.6" x2="313" y2="176.6" stroke="#ff0a0a" stroke-width="0.7"/>
<line x1="311.4" y1="170.6" x2="314.6" y2="170.6" stroke="#ff0a0a" stroke-width="0.7"/>
<line x1="311.4" y1="176.6" x2="314.6" y2="176.6" stroke="#ff0a0a" stroke-width="0.7"/>
<circle cx="209.9" cy="114.63" r="1.45" fill="#fff" stroke="#ff0a0a" stroke-width="0.9"/>
<circle cx="213.4" cy="122.12" r="1.45" fill="#fff" stroke="#ff0a0a" stroke-width="0.9"/>
<circle cx="216.72" cy="134.07" r="1.45" fill="#fff" stroke="#ff0a0a" stroke-width="0.9"/>
<circle cx="220.04" cy="143.5" r="1.45" fill="#fff" stroke="#ff0a0a" stroke-width="0.9"/>
<circle cx="223.36" cy="149.55" r="1.45" fill="#fff" stroke="#ff0a0a" stroke-width="0.9"/>
<circle cx="226.68" cy="153.37" r="1.45" fill="#fff" stroke="#ff0a0a" stroke-width="0.9"/>
<circle cx="230" cy="155.67" r="1.45" fill="#fff" stroke="#ff0a0a" stroke-width="0.9"/>
<circle cx="246.6" cy="164.38" r="1.45" fill="#fff" stroke="#ff0a0a" stroke-width="0.9"/>
<circle cx="263.2" cy="168.27" r="1.45" fill="#fff" stroke="#ff0a0a" stroke-width="0.9"/>
<circle cx="279.8" cy="171.01" r="1.45" fill="#fff" stroke="#ff0a0a" stroke-width="0.9"/>
<circle cx="313" cy="173.6" r="1.45" fill="#fff" stroke="#ff0a0a" stroke-width="0.9"/>
<circle cx="209.9" cy="114.63" r="1.65" fill="#ff0a0a" stroke="#ff0a0a" stroke-width="0.2"/>
<circle cx="213.4" cy="116.79" r="1.65" fill="#ff0a0a" stroke="#ff0a0a" stroke-width="0.2"/>
<circle cx="216.72" cy="124.06" r="1.65" fill="#ff0a0a" stroke="#ff0a0a" stroke-width="0.2"/>
<circle cx="220.04" cy="130.11" r="1.65" fill="#ff0a0a" stroke="#ff0a0a" stroke-width="0.2"/>
<circle cx="223.36" cy="134.5" r="1.65" fill="#ff0a0a" stroke="#ff0a0a" stroke-width="0.2"/>
<circle cx="226.68" cy="137.53" r="1.65" fill="#ff0a0a" stroke="#ff0a0a" stroke-width="0.2"/>
<circle cx="230" cy="139.83" r="1.65" fill="#ff0a0a" stroke="#ff0a0a" stroke-width="0.2"/>
<circle cx="246.6" cy="147.39" r="1.65" fill="#ff0a0a" stroke="#ff0a0a" stroke-width="0.2"/>
<circle cx="263.2" cy="152.36" r="1.65" fill="#ff0a0a" stroke="#ff0a0a" stroke-width="0.2"/>
<circle cx="279.8" cy="154.02" r="1.65" fill="#ff0a0a" stroke="#ff0a0a" stroke-width="0.2"/>
<circle cx="313" cy="158.7" r="1.65" fill="#ff0a0a" stroke="#ff0a0a" stroke-width="0.2"/>
<circle cx="230" cy="146.1" r="0.95" fill="#111"/>
<circle cx="246.6" cy="156.3" r="0.95" fill="#111"/>
<circle cx="263.2" cy="161.3" r="0.95" fill="#111"/>
<circle cx="279.8" cy="165" r="0.95" fill="#111"/>
<path d="M206.5 110.1V182.6H314.4" fill="none" stroke="#2a2a2a" stroke-width="1"/>
<line x1="206.5" y1="182.6" x2="208.8" y2="182.6" stroke="#2a2a2a" stroke-width="1"/>
<text x="204.7" y="184.8" font-size="6.3" text-anchor="end" fill="#1a1a1a" textLength="3.5" lengthAdjust="spacingAndGlyphs">0</text>
<line x1="206.5" y1="164.6" x2="208.8" y2="164.6" stroke="#2a2a2a" stroke-width="1"/>
<text x="204.7" y="166.8" font-size="6.3" text-anchor="end" fill="#1a1a1a" textLength="7" lengthAdjust="spacingAndGlyphs">25</text>
<line x1="206.5" y1="146.6" x2="208.8" y2="146.6" stroke="#2a2a2a" stroke-width="1"/>
<text x="204.7" y="148.8" font-size="6.3" text-anchor="end" fill="#1a1a1a" textLength="7" lengthAdjust="spacingAndGlyphs">50</text>
<line x1="206.5" y1="128.6" x2="208.8" y2="128.6" stroke="#2a2a2a" stroke-width="1"/>
<text x="204.7" y="130.8" font-size="6.3" text-anchor="end" fill="#1a1a1a" textLength="7" lengthAdjust="spacingAndGlyphs">75</text>
<line x1="206.5" y1="110.6" x2="208.8" y2="110.6" stroke="#2a2a2a" stroke-width="1"/>
<text x="204.7" y="112.8" font-size="6.3" text-anchor="end" fill="#1a1a1a" textLength="10.6" lengthAdjust="spacingAndGlyphs">100</text>
<line x1="209.9" y1="182.6" x2="209.9" y2="185.2" stroke="#2a2a2a" stroke-width="1"/>
<text x="210.2" y="192.4" font-size="6.3" text-anchor="middle" fill="#1a1a1a" textLength="9.2" lengthAdjust="spacingAndGlyphs">Bkr</text>
<line x1="230" y1="182.6" x2="230" y2="185.2" stroke="#2a2a2a" stroke-width="1"/>
<text x="230.2" y="192.4" font-size="6.3" text-anchor="middle" fill="#1a1a1a" textLength="7.5" lengthAdjust="spacingAndGlyphs">10'</text>
<line x1="246.6" y1="182.6" x2="246.6" y2="185.2" stroke="#2a2a2a" stroke-width="1"/>
<text x="246.8" y="192.4" font-size="6.3" text-anchor="middle" fill="#1a1a1a" textLength="7.5" lengthAdjust="spacingAndGlyphs">20'</text>
<line x1="263.2" y1="182.6" x2="263.2" y2="185.2" stroke="#2a2a2a" stroke-width="1"/>
<text x="263.4" y="192.4" font-size="6.3" text-anchor="middle" fill="#1a1a1a" textLength="7.5" lengthAdjust="spacingAndGlyphs">30'</text>
<line x1="279.8" y1="182.6" x2="279.8" y2="185.2" stroke="#2a2a2a" stroke-width="1"/>
<text x="280" y="192.4" font-size="6.3" text-anchor="middle" fill="#1a1a1a" textLength="7.5" lengthAdjust="spacingAndGlyphs">40'</text>
<line x1="296.4" y1="182.6" x2="296.4" y2="185.2" stroke="#2a2a2a" stroke-width="1"/>
<text x="296.6" y="192.4" font-size="6.3" text-anchor="middle" fill="#1a1a1a" textLength="7.5" lengthAdjust="spacingAndGlyphs">50'</text>
<line x1="313" y1="182.6" x2="313" y2="185.2" stroke="#2a2a2a" stroke-width="1"/>
<text x="313.2" y="192.4" font-size="6.3" text-anchor="middle" fill="#1a1a1a" textLength="7.5" lengthAdjust="spacingAndGlyphs">60'</text>
<text x="246.8" y="201.8" font-size="6.8" text-anchor="start" fill="#1a1a1a" textLength="13.6" lengthAdjust="spacingAndGlyphs">Time</text>
<text x="263.3" y="201.8" font-size="6.8" text-anchor="start" fill="#1a1a1a" textLength="15" lengthAdjust="spacingAndGlyphs">(min)</text>
<text x="262.1" y="211" font-size="7.6" text-anchor="middle" fill="#111" textLength="11" lengthAdjust="spacingAndGlyphs" font-weight="bold">(d)</text>
<text x="262" y="111.8" font-size="6.8" text-anchor="middle" fill="#1a1a1a" textLength="15.8" lengthAdjust="spacingAndGlyphs">eATP</text>
<text x="0" y="0" font-size="6.8" text-anchor="middle" fill="#1a1a1a" textLength="52.5" lengthAdjust="spacingAndGlyphs" transform="translate(191.8,144.5) rotate(-90)">% of Total purines</text>
<line x1="318.9" y1="122.8" x2="325.9" y2="122.8" stroke="#ff0a0a" stroke-width="0.8"/>
<circle cx="322.5" cy="122.8" r="1.65" fill="#ff0a0a" stroke="#ff0a0a" stroke-width="0.2"/>
<line x1="318.9" y1="132.3" x2="325.9" y2="132.3" stroke="#ff0a0a" stroke-width="0.8"/>
<circle cx="322.5" cy="132.3" r="1.45" fill="#fff" stroke="#ff0a0a" stroke-width="0.9"/>
<text x="329.1" y="125.2" font-size="6.8" text-anchor="start" fill="#1a1a1a" textLength="21.2" lengthAdjust="spacingAndGlyphs">Vehicle</text>
<text x="329.1" y="135.1" font-size="6.8" text-anchor="start" fill="#1a1a1a" textLength="22.6" lengthAdjust="spacingAndGlyphs">GsMTx4</text>
<text x="356.3" y="134.9" font-size="6.4" text-anchor="start" fill="#1a1a1a">+</text>
<text x="329.1" y="142.7" font-size="6.8" text-anchor="start" fill="#1a1a1a" textLength="29.6" lengthAdjust="spacingAndGlyphs">D-GsMTx4</text>
<polyline points="31.4,285.1 35,282.56 38.24,277.74 41.48,274.48 44.72,271.09 47.96,268.4 51.2,266.41 67.4,259.9 83.6,255.08 99.8,252.11 132.2,247.86" fill="none" stroke="#1414ff" stroke-width="0.7" stroke-dasharray="1,1.1"/>
<polyline points="31.4,285.1 35,282.56 38.24,279.72 41.48,276.75 44.72,274.77 47.96,273.07 51.2,271.37 67.4,265.85 83.6,262.02 99.8,259.19 132.2,255.65" fill="none" stroke="#1414ff" stroke-width="0.7" stroke-dasharray="1,1.1"/>
<line x1="41.48" y1="272.98" x2="41.48" y2="275.98" stroke="#1414ff" stroke-width="0.7"/>
<line x1="39.88" y1="272.98" x2="43.08" y2="272.98" stroke="#1414ff" stroke-width="0.7"/>
<line x1="39.88" y1="275.98" x2="43.08" y2="275.98" stroke="#1414ff" stroke-width="0.7"/>
<line x1="44.72" y1="269.09" x2="44.72" y2="273.09" stroke="#1414ff" stroke-width="0.7"/>
<line x1="43.12" y1="269.09" x2="46.32" y2="269.09" stroke="#1414ff" stroke-width="0.7"/>
<line x1="43.12" y1="273.09" x2="46.32" y2="273.09" stroke="#1414ff" stroke-width="0.7"/>
<line x1="47.96" y1="265.9" x2="47.96" y2="270.9" stroke="#1414ff" stroke-width="0.7"/>
<line x1="46.36" y1="265.9" x2="49.56" y2="265.9" stroke="#1414ff" stroke-width="0.7"/>
<line x1="46.36" y1="270.9" x2="49.56" y2="270.9" stroke="#1414ff" stroke-width="0.7"/>
<line x1="51.2" y1="263.41" x2="51.2" y2="269.41" stroke="#1414ff" stroke-width="0.7"/>
<line x1="49.6" y1="263.41" x2="52.8" y2="263.41" stroke="#1414ff" stroke-width="0.7"/>
<line x1="49.6" y1="269.41" x2="52.8" y2="269.41" stroke="#1414ff" stroke-width="0.7"/>
<line x1="67.4" y1="255.9" x2="67.4" y2="263.9" stroke="#1414ff" stroke-width="0.7"/>
<line x1="65.8" y1="255.9" x2="69" y2="255.9" stroke="#1414ff" stroke-width="0.7"/>
<line x1="65.8" y1="263.9" x2="69" y2="263.9" stroke="#1414ff" stroke-width="0.7"/>
<line x1="83.6" y1="250.88" x2="83.6" y2="259.28" stroke="#1414ff" stroke-width="0.7"/>
<line x1="82" y1="250.88" x2="85.2" y2="250.88" stroke="#1414ff" stroke-width="0.7"/>
<line x1="82" y1="259.28" x2="85.2" y2="259.28" stroke="#1414ff" stroke-width="0.7"/>
<line x1="99.8" y1="247.71" x2="99.8" y2="256.51" stroke="#1414ff" stroke-width="0.7"/>
<line x1="98.2" y1="247.71" x2="101.4" y2="247.71" stroke="#1414ff" stroke-width="0.7"/>
<line x1="98.2" y1="256.51" x2="101.4" y2="256.51" stroke="#1414ff" stroke-width="0.7"/>
<line x1="132.2" y1="242.56" x2="132.2" y2="253.16" stroke="#1414ff" stroke-width="0.7"/>
<line x1="130.6" y1="242.56" x2="133.8" y2="242.56" stroke="#1414ff" stroke-width="0.7"/>
<line x1="130.6" y1="253.16" x2="133.8" y2="253.16" stroke="#1414ff" stroke-width="0.7"/>
<line x1="38.24" y1="278.72" x2="38.24" y2="280.72" stroke="#1414ff" stroke-width="0.7"/>
<line x1="36.64" y1="278.72" x2="39.84" y2="278.72" stroke="#1414ff" stroke-width="0.7"/>
<line x1="36.64" y1="280.72" x2="39.84" y2="280.72" stroke="#1414ff" stroke-width="0.7"/>
<line x1="41.48" y1="275.25" x2="41.48" y2="278.25" stroke="#1414ff" stroke-width="0.7"/>
<line x1="39.88" y1="275.25" x2="43.08" y2="275.25" stroke="#1414ff" stroke-width="0.7"/>
<line x1="39.88" y1="278.25" x2="43.08" y2="278.25" stroke="#1414ff" stroke-width="0.7"/>
<line x1="44.72" y1="272.77" x2="44.72" y2="276.77" stroke="#1414ff" stroke-width="0.7"/>
<line x1="43.12" y1="272.77" x2="46.32" y2="272.77" stroke="#1414ff" stroke-width="0.7"/>
<line x1="43.12" y1="276.77" x2="46.32" y2="276.77" stroke="#1414ff" stroke-width="0.7"/>
<line x1="47.96" y1="270.57" x2="47.96" y2="275.57" stroke="#1414ff" stroke-width="0.7"/>
<line x1="46.36" y1="270.57" x2="49.56" y2="270.57" stroke="#1414ff" stroke-width="0.7"/>
<line x1="46.36" y1="275.57" x2="49.56" y2="275.57" stroke="#1414ff" stroke-width="0.7"/>
<line x1="51.2" y1="268.37" x2="51.2" y2="274.37" stroke="#1414ff" stroke-width="0.7"/>
<line x1="49.6" y1="268.37" x2="52.8" y2="268.37" stroke="#1414ff" stroke-width="0.7"/>
<line x1="49.6" y1="274.37" x2="52.8" y2="274.37" stroke="#1414ff" stroke-width="0.7"/>
<line x1="67.4" y1="261.85" x2="67.4" y2="269.85" stroke="#1414ff" stroke-width="0.7"/>
<line x1="65.8" y1="261.85" x2="69" y2="261.85" stroke="#1414ff" stroke-width="0.7"/>
<line x1="65.8" y1="269.85" x2="69" y2="269.85" stroke="#1414ff" stroke-width="0.7"/>
<line x1="83.6" y1="257.82" x2="83.6" y2="266.22" stroke="#1414ff" stroke-width="0.7"/>
<line x1="82" y1="257.82" x2="85.2" y2="257.82" stroke="#1414ff" stroke-width="0.7"/>
<line x1="82" y1="266.22" x2="85.2" y2="266.22" stroke="#1414ff" stroke-width="0.7"/>
<line x1="99.8" y1="254.79" x2="99.8" y2="263.59" stroke="#1414ff" stroke-width="0.7"/>
<line x1="98.2" y1="254.79" x2="101.4" y2="254.79" stroke="#1414ff" stroke-width="0.7"/>
<line x1="98.2" y1="263.59" x2="101.4" y2="263.59" stroke="#1414ff" stroke-width="0.7"/>
<line x1="132.2" y1="251.85" x2="132.2" y2="259.45" stroke="#1414ff" stroke-width="0.7"/>
<line x1="130.6" y1="251.85" x2="133.8" y2="251.85" stroke="#1414ff" stroke-width="0.7"/>
<line x1="130.6" y1="259.45" x2="133.8" y2="259.45" stroke="#1414ff" stroke-width="0.7"/>
<circle cx="31.4" cy="285.1" r="1.45" fill="#fff" stroke="#1414ff" stroke-width="0.9"/>
<circle cx="35" cy="282.56" r="1.45" fill="#fff" stroke="#1414ff" stroke-width="0.9"/>
<circle cx="38.24" cy="279.72" r="1.45" fill="#fff" stroke="#1414ff" stroke-width="0.9"/>
<circle cx="41.48" cy="276.75" r="1.45" fill="#fff" stroke="#1414ff" stroke-width="0.9"/>
<circle cx="44.72" cy="274.77" r="1.45" fill="#fff" stroke="#1414ff" stroke-width="0.9"/>
<circle cx="47.96" cy="273.07" r="1.45" fill="#fff" stroke="#1414ff" stroke-width="0.9"/>
<circle cx="51.2" cy="271.37" r="1.45" fill="#fff" stroke="#1414ff" stroke-width="0.9"/>
<circle cx="67.4" cy="265.85" r="1.45" fill="#fff" stroke="#1414ff" stroke-width="0.9"/>
<circle cx="83.6" cy="262.02" r="1.45" fill="#fff" stroke="#1414ff" stroke-width="0.9"/>
<circle cx="99.8" cy="259.19" r="1.45" fill="#fff" stroke="#1414ff" stroke-width="0.9"/>
<circle cx="132.2" cy="255.65" r="1.45" fill="#fff" stroke="#1414ff" stroke-width="0.9"/>
<circle cx="31.4" cy="285.1" r="1.65" fill="#1414ff" stroke="#1414ff" stroke-width="0.2"/>
<circle cx="35" cy="282.56" r="1.65" fill="#1414ff" stroke="#1414ff" stroke-width="0.2"/>
<circle cx="38.24" cy="277.74" r="1.65" fill="#1414ff" stroke="#1414ff" stroke-width="0.2"/>
<circle cx="41.48" cy="274.48" r="1.65" fill="#1414ff" stroke="#1414ff" stroke-width="0.2"/>
<circle cx="44.72" cy="271.09" r="1.65" fill="#1414ff" stroke="#1414ff" stroke-width="0.2"/>
<circle cx="47.96" cy="268.4" r="1.65" fill="#1414ff" stroke="#1414ff" stroke-width="0.2"/>
<circle cx="51.2" cy="266.41" r="1.65" fill="#1414ff" stroke="#1414ff" stroke-width="0.2"/>
<circle cx="67.4" cy="259.9" r="1.65" fill="#1414ff" stroke="#1414ff" stroke-width="0.2"/>
<circle cx="83.6" cy="255.08" r="1.65" fill="#1414ff" stroke="#1414ff" stroke-width="0.2"/>
<circle cx="99.8" cy="252.11" r="1.65" fill="#1414ff" stroke="#1414ff" stroke-width="0.2"/>
<circle cx="132.2" cy="247.86" r="1.65" fill="#1414ff" stroke="#1414ff" stroke-width="0.2"/>
<path d="M28.2 222.3V293.6H133.6" fill="none" stroke="#2a2a2a" stroke-width="1"/>
<line x1="28.2" y1="293.6" x2="30.5" y2="293.6" stroke="#2a2a2a" stroke-width="1"/>
<text x="26.4" y="295.8" font-size="6.3" text-anchor="end" fill="#1a1a1a" textLength="3.5" lengthAdjust="spacingAndGlyphs">0</text>
<line x1="28.2" y1="279.44" x2="30.5" y2="279.44" stroke="#2a2a2a" stroke-width="1"/>
<text x="26.4" y="281.64" font-size="6.3" text-anchor="end" fill="#1a1a1a" textLength="7" lengthAdjust="spacingAndGlyphs">10</text>
<line x1="28.2" y1="265.28" x2="30.5" y2="265.28" stroke="#2a2a2a" stroke-width="1"/>
<text x="26.4" y="267.48" font-size="6.3" text-anchor="end" fill="#1a1a1a" textLength="7" lengthAdjust="spacingAndGlyphs">20</text>
<line x1="28.2" y1="251.12" x2="30.5" y2="251.12" stroke="#2a2a2a" stroke-width="1"/>
<text x="26.4" y="253.32" font-size="6.3" text-anchor="end" fill="#1a1a1a" textLength="7" lengthAdjust="spacingAndGlyphs">30</text>
<line x1="28.2" y1="236.96" x2="30.5" y2="236.96" stroke="#2a2a2a" stroke-width="1"/>
<text x="26.4" y="239.16" font-size="6.3" text-anchor="end" fill="#1a1a1a" textLength="7" lengthAdjust="spacingAndGlyphs">40</text>
<line x1="28.2" y1="222.8" x2="30.5" y2="222.8" stroke="#2a2a2a" stroke-width="1"/>
<text x="26.4" y="225" font-size="6.3" text-anchor="end" fill="#1a1a1a" textLength="7" lengthAdjust="spacingAndGlyphs">50</text>
<line x1="31.4" y1="293.6" x2="31.4" y2="296.2" stroke="#2a2a2a" stroke-width="1"/>
<text x="31.7" y="303.5" font-size="6.3" text-anchor="middle" fill="#1a1a1a" textLength="9.2" lengthAdjust="spacingAndGlyphs">Bkr</text>
<line x1="51.2" y1="293.6" x2="51.2" y2="296.2" stroke="#2a2a2a" stroke-width="1"/>
<text x="51.4" y="303.5" font-size="6.3" text-anchor="middle" fill="#1a1a1a" textLength="7.5" lengthAdjust="spacingAndGlyphs">10'</text>
<line x1="67.4" y1="293.6" x2="67.4" y2="296.2" stroke="#2a2a2a" stroke-width="1"/>
<text x="67.6" y="303.5" font-size="6.3" text-anchor="middle" fill="#1a1a1a" textLength="7.5" lengthAdjust="spacingAndGlyphs">20'</text>
<line x1="83.6" y1="293.6" x2="83.6" y2="296.2" stroke="#2a2a2a" stroke-width="1"/>
<text x="83.8" y="303.5" font-size="6.3" text-anchor="middle" fill="#1a1a1a" textLength="7.5" lengthAdjust="spacingAndGlyphs">30'</text>
<line x1="99.8" y1="293.6" x2="99.8" y2="296.2" stroke="#2a2a2a" stroke-width="1"/>
<text x="100" y="303.5" font-size="6.3" text-anchor="middle" fill="#1a1a1a" textLength="7.5" lengthAdjust="spacingAndGlyphs">40'</text>
<line x1="116" y1="293.6" x2="116" y2="296.2" stroke="#2a2a2a" stroke-width="1"/>
<text x="116.2" y="303.5" font-size="6.3" text-anchor="middle" fill="#1a1a1a" textLength="7.5" lengthAdjust="spacingAndGlyphs">50'</text>
<line x1="132.2" y1="293.6" x2="132.2" y2="296.2" stroke="#2a2a2a" stroke-width="1"/>
<text x="132.4" y="303.5" font-size="6.3" text-anchor="middle" fill="#1a1a1a" textLength="7.5" lengthAdjust="spacingAndGlyphs">60'</text>
<text x="68.3" y="313.1" font-size="6.8" text-anchor="start" fill="#1a1a1a" textLength="13.6" lengthAdjust="spacingAndGlyphs">Time</text>
<text x="84.8" y="313.1" font-size="6.8" text-anchor="start" fill="#1a1a1a" textLength="15" lengthAdjust="spacingAndGlyphs">(min)</text>
<text x="83.7" y="322.7" font-size="7.6" text-anchor="middle" fill="#111" textLength="10.4" lengthAdjust="spacingAndGlyphs" font-weight="bold">(e)</text>
<text x="82.6" y="222.4" font-size="6.8" text-anchor="middle" fill="#1a1a1a" textLength="16.2" lengthAdjust="spacingAndGlyphs">eADP</text>
<text x="0" y="0" font-size="6.8" text-anchor="middle" fill="#1a1a1a" textLength="52.5" lengthAdjust="spacingAndGlyphs" transform="translate(11.5,256.5) rotate(-90)">% of Total purines</text>
<line x1="137.1" y1="247.2" x2="144.1" y2="247.2" stroke="#1414ff" stroke-width="0.8" stroke-dasharray="1,1.1"/>
<circle cx="140.7" cy="247.2" r="1.65" fill="#1414ff" stroke="#1414ff" stroke-width="0.2"/>
<line x1="137.1" y1="256.7" x2="144.1" y2="256.7" stroke="#1414ff" stroke-width="0.8" stroke-dasharray="1,1.1"/>
<circle cx="140.7" cy="256.7" r="1.45" fill="#fff" stroke="#1414ff" stroke-width="0.9"/>
<text x="146.3" y="249.6" font-size="6.8" text-anchor="start" fill="#1a1a1a" textLength="21.2" lengthAdjust="spacingAndGlyphs">Vehicle</text>
<text x="146.3" y="259.5" font-size="6.8" text-anchor="start" fill="#1a1a1a" textLength="22.6" lengthAdjust="spacingAndGlyphs">GsMTx4</text>
<text x="173.5" y="259.3" font-size="6.4" text-anchor="start" fill="#1a1a1a">+</text>
<text x="146.3" y="267.1" font-size="6.8" text-anchor="start" fill="#1a1a1a" textLength="29.6" lengthAdjust="spacingAndGlyphs">D-GsMTx4</text>
<polyline points="210.7,285.19 214,281.61 217.33,270.59 220.66,260.99 223.99,255.12 227.32,250.68 230.65,247.96 247.3,237.65 263.95,234.07 280.6,233.21 313.9,229.92" fill="none" stroke="#1414ff" stroke-width="0.75"/>
<polyline points="210.7,285.19 214,272.31 217.33,256.27 220.66,244.81 223.99,240.52 227.32,235.07 230.65,233.93 247.3,228.63 263.95,229.78 280.6,230.35 313.9,236.22" fill="none" stroke="#1414ff" stroke-width="0.75"/>
<line x1="217.33" y1="268.59" x2="217.33" y2="272.59" stroke="#1414ff" stroke-width="0.7"/>
<line x1="215.73" y1="268.59" x2="218.93" y2="268.59" stroke="#1414ff" stroke-width="0.7"/>
<line x1="215.73" y1="272.59" x2="218.93" y2="272.59" stroke="#1414ff" stroke-width="0.7"/>
<line x1="220.66" y1="258.49" x2="220.66" y2="263.49" stroke="#1414ff" stroke-width="0.7"/>
<line x1="219.06" y1="258.49" x2="222.26" y2="258.49" stroke="#1414ff" stroke-width="0.7"/>
<line x1="219.06" y1="263.49" x2="222.26" y2="263.49" stroke="#1414ff" stroke-width="0.7"/>
<line x1="223.99" y1="252.12" x2="223.99" y2="258.12" stroke="#1414ff" stroke-width="0.7"/>
<line x1="222.39" y1="252.12" x2="225.59" y2="252.12" stroke="#1414ff" stroke-width="0.7"/>
<line x1="222.39" y1="258.12" x2="225.59" y2="258.12" stroke="#1414ff" stroke-width="0.7"/>
<line x1="227.32" y1="247.18" x2="227.32" y2="254.18" stroke="#1414ff" stroke-width="0.7"/>
<line x1="225.72" y1="247.18" x2="228.92" y2="247.18" stroke="#1414ff" stroke-width="0.7"/>
<line x1="225.72" y1="254.18" x2="228.92" y2="254.18" stroke="#1414ff" stroke-width="0.7"/>
<line x1="230.65" y1="244.16" x2="230.65" y2="251.76" stroke="#1414ff" stroke-width="0.7"/>
<line x1="229.05" y1="244.16" x2="232.25" y2="244.16" stroke="#1414ff" stroke-width="0.7"/>
<line x1="229.05" y1="251.76" x2="232.25" y2="251.76" stroke="#1414ff" stroke-width="0.7"/>
<line x1="247.3" y1="233.65" x2="247.3" y2="241.65" stroke="#1414ff" stroke-width="0.7"/>
<line x1="245.7" y1="233.65" x2="248.9" y2="233.65" stroke="#1414ff" stroke-width="0.7"/>
<line x1="245.7" y1="241.65" x2="248.9" y2="241.65" stroke="#1414ff" stroke-width="0.7"/>
<line x1="263.95" y1="230.07" x2="263.95" y2="238.07" stroke="#1414ff" stroke-width="0.7"/>
<line x1="262.35" y1="230.07" x2="265.55" y2="230.07" stroke="#1414ff" stroke-width="0.7"/>
<line x1="262.35" y1="238.07" x2="265.55" y2="238.07" stroke="#1414ff" stroke-width="0.7"/>
<line x1="280.6" y1="229.21" x2="280.6" y2="237.21" stroke="#1414ff" stroke-width="0.7"/>
<line x1="279" y1="229.21" x2="282.2" y2="229.21" stroke="#1414ff" stroke-width="0.7"/>
<line x1="279" y1="237.21" x2="282.2" y2="237.21" stroke="#1414ff" stroke-width="0.7"/>
<line x1="313.9" y1="226.02" x2="313.9" y2="233.82" stroke="#1414ff" stroke-width="0.7"/>
<line x1="312.3" y1="226.02" x2="315.5" y2="226.02" stroke="#1414ff" stroke-width="0.7"/>
<line x1="312.3" y1="233.82" x2="315.5" y2="233.82" stroke="#1414ff" stroke-width="0.7"/>
<line x1="214" y1="270.31" x2="214" y2="274.31" stroke="#1414ff" stroke-width="0.7"/>
<line x1="212.4" y1="270.31" x2="215.6" y2="270.31" stroke="#1414ff" stroke-width="0.7"/>
<line x1="212.4" y1="274.31" x2="215.6" y2="274.31" stroke="#1414ff" stroke-width="0.7"/>
<line x1="217.33" y1="253.27" x2="217.33" y2="259.27" stroke="#1414ff" stroke-width="0.7"/>
<line x1="215.73" y1="253.27" x2="218.93" y2="253.27" stroke="#1414ff" stroke-width="0.7"/>
<line x1="215.73" y1="259.27" x2="218.93" y2="259.27" stroke="#1414ff" stroke-width="0.7"/>
<line x1="220.66" y1="241.31" x2="220.66" y2="248.31" stroke="#1414ff" stroke-width="0.7"/>
<line x1="219.06" y1="241.31" x2="222.26" y2="241.31" stroke="#1414ff" stroke-width="0.7"/>
<line x1="219.06" y1="248.31" x2="222.26" y2="248.31" stroke="#1414ff" stroke-width="0.7"/>
<line x1="223.99" y1="237.02" x2="223.99" y2="244.02" stroke="#1414ff" stroke-width="0.7"/>
<line x1="222.39" y1="237.02" x2="225.59" y2="237.02" stroke="#1414ff" stroke-width="0.7"/>
<line x1="222.39" y1="244.02" x2="225.59" y2="244.02" stroke="#1414ff" stroke-width="0.7"/>
<line x1="227.32" y1="231.57" x2="227.32" y2="238.57" stroke="#1414ff" stroke-width="0.7"/>
<line x1="225.72" y1="231.57" x2="228.92" y2="231.57" stroke="#1414ff" stroke-width="0.7"/>
<line x1="225.72" y1="238.57" x2="228.92" y2="238.57" stroke="#1414ff" stroke-width="0.7"/>
<line x1="230.65" y1="230.43" x2="230.65" y2="237.43" stroke="#1414ff" stroke-width="0.7"/>
<line x1="229.05" y1="230.43" x2="232.25" y2="230.43" stroke="#1414ff" stroke-width="0.7"/>
<line x1="229.05" y1="237.43" x2="232.25" y2="237.43" stroke="#1414ff" stroke-width="0.7"/>
<line x1="247.3" y1="224.43" x2="247.3" y2="232.83" stroke="#1414ff" stroke-width="0.7"/>
<line x1="245.7" y1="224.43" x2="248.9" y2="224.43" stroke="#1414ff" stroke-width="0.7"/>
<line x1="245.7" y1="232.83" x2="248.9" y2="232.83" stroke="#1414ff" stroke-width="0.7"/>
<line x1="263.95" y1="225.58" x2="263.95" y2="233.98" stroke="#1414ff" stroke-width="0.7"/>
<line x1="262.35" y1="225.58" x2="265.55" y2="225.58" stroke="#1414ff" stroke-width="0.7"/>
<line x1="262.35" y1="233.98" x2="265.55" y2="233.98" stroke="#1414ff" stroke-width="0.7"/>
<line x1="280.6" y1="223.95" x2="280.6" y2="236.75" stroke="#1414ff" stroke-width="0.7"/>
<line x1="279" y1="223.95" x2="282.2" y2="223.95" stroke="#1414ff" stroke-width="0.7"/>
<line x1="279" y1="236.75" x2="282.2" y2="236.75" stroke="#1414ff" stroke-width="0.7"/>
<line x1="313.9" y1="230.52" x2="313.9" y2="241.92" stroke="#1414ff" stroke-width="0.7"/>
<line x1="312.3" y1="230.52" x2="315.5" y2="230.52" stroke="#1414ff" stroke-width="0.7"/>
<line x1="312.3" y1="241.92" x2="315.5" y2="241.92" stroke="#1414ff" stroke-width="0.7"/>
<circle cx="210.7" cy="285.19" r="1.45" fill="#fff" stroke="#1414ff" stroke-width="0.9"/>
<circle cx="214" cy="272.31" r="1.45" fill="#fff" stroke="#1414ff" stroke-width="0.9"/>
<circle cx="217.33" cy="256.27" r="1.45" fill="#fff" stroke="#1414ff" stroke-width="0.9"/>
<circle cx="220.66" cy="244.81" r="1.45" fill="#fff" stroke="#1414ff" stroke-width="0.9"/>
<circle cx="223.99" cy="240.52" r="1.45" fill="#fff" stroke="#1414ff" stroke-width="0.9"/>
<circle cx="227.32" cy="235.07" r="1.45" fill="#fff" stroke="#1414ff" stroke-width="0.9"/>
<circle cx="230.65" cy="233.93" r="1.45" fill="#fff" stroke="#1414ff" stroke-width="0.9"/>
<circle cx="247.3" cy="228.63" r="1.45" fill="#fff" stroke="#1414ff" stroke-width="0.9"/>
<circle cx="263.95" cy="229.78" r="1.45" fill="#fff" stroke="#1414ff" stroke-width="0.9"/>
<circle cx="280.6" cy="230.35" r="1.45" fill="#fff" stroke="#1414ff" stroke-width="0.9"/>
<circle cx="313.9" cy="236.22" r="1.45" fill="#fff" stroke="#1414ff" stroke-width="0.9"/>
<circle cx="210.7" cy="285.19" r="1.65" fill="#1414ff" stroke="#1414ff" stroke-width="0.2"/>
<circle cx="214" cy="281.61" r="1.65" fill="#1414ff" stroke="#1414ff" stroke-width="0.2"/>
<circle cx="217.33" cy="270.59" r="1.65" fill="#1414ff" stroke="#1414ff" stroke-width="0.2"/>
<circle cx="220.66" cy="260.99" r="1.65" fill="#1414ff" stroke="#1414ff" stroke-width="0.2"/>
<circle cx="223.99" cy="255.12" r="1.65" fill="#1414ff" stroke="#1414ff" stroke-width="0.2"/>
<circle cx="227.32" cy="250.68" r="1.65" fill="#1414ff" stroke="#1414ff" stroke-width="0.2"/>
<circle cx="230.65" cy="247.96" r="1.65" fill="#1414ff" stroke="#1414ff" stroke-width="0.2"/>
<circle cx="247.3" cy="237.65" r="1.65" fill="#1414ff" stroke="#1414ff" stroke-width="0.2"/>
<circle cx="263.95" cy="234.07" r="1.65" fill="#1414ff" stroke="#1414ff" stroke-width="0.2"/>
<circle cx="280.6" cy="233.21" r="1.65" fill="#1414ff" stroke="#1414ff" stroke-width="0.2"/>
<circle cx="313.9" cy="229.92" r="1.65" fill="#1414ff" stroke="#1414ff" stroke-width="0.2"/>
<path d="M207.4 221.4V293.5H315.3" fill="none" stroke="#2a2a2a" stroke-width="1"/>
<line x1="207.4" y1="293.5" x2="209.7" y2="293.5" stroke="#2a2a2a" stroke-width="1"/>
<text x="207" y="299.2" font-size="6.3" text-anchor="end" fill="#1a1a1a" textLength="3.5" lengthAdjust="spacingAndGlyphs">0</text>
<line x1="207.4" y1="279.18" x2="209.7" y2="279.18" stroke="#2a2a2a" stroke-width="1"/>
<text x="205.6" y="285.4" font-size="6.3" text-anchor="end" fill="#1a1a1a" textLength="7" lengthAdjust="spacingAndGlyphs">10</text>
<line x1="207.4" y1="264.86" x2="209.7" y2="264.86" stroke="#2a2a2a" stroke-width="1"/>
<text x="205.6" y="270.7" font-size="6.3" text-anchor="end" fill="#1a1a1a" textLength="7" lengthAdjust="spacingAndGlyphs">20</text>
<line x1="207.4" y1="250.54" x2="209.7" y2="250.54" stroke="#2a2a2a" stroke-width="1"/>
<text x="205.6" y="254.4" font-size="6.3" text-anchor="end" fill="#1a1a1a" textLength="7" lengthAdjust="spacingAndGlyphs">30</text>
<line x1="207.4" y1="236.22" x2="209.7" y2="236.22" stroke="#2a2a2a" stroke-width="1"/>
<text x="205.6" y="238.9" font-size="6.3" text-anchor="end" fill="#1a1a1a" textLength="7" lengthAdjust="spacingAndGlyphs">40</text>
<line x1="207.4" y1="221.9" x2="209.7" y2="221.9" stroke="#2a2a2a" stroke-width="1"/>
<text x="205.6" y="224.2" font-size="6.3" text-anchor="end" fill="#1a1a1a" textLength="7" lengthAdjust="spacingAndGlyphs">50</text>
<line x1="210.7" y1="293.5" x2="210.7" y2="296.1" stroke="#2a2a2a" stroke-width="1"/>
<text x="212.4" y="303.5" font-size="6.3" text-anchor="middle" fill="#1a1a1a" textLength="9.2" lengthAdjust="spacingAndGlyphs">Bkr</text>
<line x1="230.65" y1="293.5" x2="230.65" y2="296.1" stroke="#2a2a2a" stroke-width="1"/>
<text x="230.85" y="303.5" font-size="6.3" text-anchor="middle" fill="#1a1a1a" textLength="7.5" lengthAdjust="spacingAndGlyphs">10'</text>
<line x1="247.3" y1="293.5" x2="247.3" y2="296.1" stroke="#2a2a2a" stroke-width="1"/>
<text x="247.5" y="303.5" font-size="6.3" text-anchor="middle" fill="#1a1a1a" textLength="7.5" lengthAdjust="spacingAndGlyphs">20'</text>
<line x1="263.95" y1="293.5" x2="263.95" y2="296.1" stroke="#2a2a2a" stroke-width="1"/>
<text x="264.15" y="303.5" font-size="6.3" text-anchor="middle" fill="#1a1a1a" textLength="7.5" lengthAdjust="spacingAndGlyphs">30'</text>
<line x1="280.6" y1="293.5" x2="280.6" y2="296.1" stroke="#2a2a2a" stroke-width="1"/>
<text x="280.8" y="303.5" font-size="6.3" text-anchor="middle" fill="#1a1a1a" textLength="7.5" lengthAdjust="spacingAndGlyphs">40'</text>
<line x1="297.25" y1="293.5" x2="297.25" y2="296.1" stroke="#2a2a2a" stroke-width="1"/>
<text x="297.45" y="303.5" font-size="6.3" text-anchor="middle" fill="#1a1a1a" textLength="7.5" lengthAdjust="spacingAndGlyphs">50'</text>
<line x1="313.9" y1="293.5" x2="313.9" y2="296.1" stroke="#2a2a2a" stroke-width="1"/>
<text x="314.1" y="303.5" font-size="6.3" text-anchor="middle" fill="#1a1a1a" textLength="7.5" lengthAdjust="spacingAndGlyphs">60'</text>
<text x="246.7" y="313.3" font-size="6.8" text-anchor="start" fill="#1a1a1a" textLength="13.6" lengthAdjust="spacingAndGlyphs">Time</text>
<text x="263.2" y="313.3" font-size="6.8" text-anchor="start" fill="#1a1a1a" textLength="15" lengthAdjust="spacingAndGlyphs">(min)</text>
<text x="260.8" y="322.5" font-size="7.6" text-anchor="middle" fill="#111" textLength="9" lengthAdjust="spacingAndGlyphs" font-weight="bold">(f)</text>
<text x="260.8" y="222.5" font-size="6.8" text-anchor="middle" fill="#1a1a1a" textLength="16.2" lengthAdjust="spacingAndGlyphs">eADP</text>
<text x="0" y="0" font-size="6.8" text-anchor="middle" fill="#1a1a1a" textLength="52.5" lengthAdjust="spacingAndGlyphs" transform="translate(191.8,258.3) rotate(-90)">% of Total purines</text>
<line x1="318.7" y1="247.9" x2="325.7" y2="247.9" stroke="#1414ff" stroke-width="0.8"/>
<circle cx="322.3" cy="247.9" r="1.65" fill="#1414ff" stroke="#1414ff" stroke-width="0.2"/>
<line x1="318.7" y1="257.4" x2="325.7" y2="257.4" stroke="#1414ff" stroke-width="0.8"/>
<circle cx="322.3" cy="257.4" r="1.45" fill="#fff" stroke="#1414ff" stroke-width="0.9"/>
<text x="329.1" y="250.3" font-size="6.8" text-anchor="start" fill="#1a1a1a" textLength="21.2" lengthAdjust="spacingAndGlyphs">Vehicle</text>
<text x="329.1" y="260.2" font-size="6.8" text-anchor="start" fill="#1a1a1a" textLength="22.6" lengthAdjust="spacingAndGlyphs">GsMTx4</text>
<text x="356.3" y="260" font-size="6.4" text-anchor="start" fill="#1a1a1a">+</text>
<text x="329.1" y="267.8" font-size="6.8" text-anchor="start" fill="#1a1a1a" textLength="29.6" lengthAdjust="spacingAndGlyphs">D-GsMTx4</text>
<polyline points="31.2,405.19 34.8,402.35 38.1,394.56 41.4,389.59 44.7,384.63 48,381.08 51.3,377.54 67.8,366.9 84.3,360.52 100.8,356.27 133.8,354.85" fill="none" stroke="#d40f1e" stroke-width="0.7" stroke-dasharray="1,1.1"/>
<polyline points="31.2,405.19 34.8,402.35 38.1,396.68 41.4,392.43 44.7,390.3 48,387.47 51.3,385.34 67.8,374.7 84.3,368.32 100.8,362.65 133.8,359.81" fill="none" stroke="#d40f1e" stroke-width="0.7" stroke-dasharray="1,1.1"/>
<line x1="44.7" y1="383.13" x2="44.7" y2="386.13" stroke="#d40f1e" stroke-width="0.7"/>
<line x1="43.1" y1="383.13" x2="46.3" y2="383.13" stroke="#d40f1e" stroke-width="0.7"/>
<line x1="43.1" y1="386.13" x2="46.3" y2="386.13" stroke="#d40f1e" stroke-width="0.7"/>
<line x1="48" y1="379.08" x2="48" y2="383.08" stroke="#d40f1e" stroke-width="0.7"/>
<line x1="46.4" y1="379.08" x2="49.6" y2="379.08" stroke="#d40f1e" stroke-width="0.7"/>
<line x1="46.4" y1="383.08" x2="49.6" y2="383.08" stroke="#d40f1e" stroke-width="0.7"/>
<line x1="51.3" y1="373.54" x2="51.3" y2="381.54" stroke="#d40f1e" stroke-width="0.7"/>
<line x1="49.7" y1="373.54" x2="52.9" y2="373.54" stroke="#d40f1e" stroke-width="0.7"/>
<line x1="49.7" y1="381.54" x2="52.9" y2="381.54" stroke="#d40f1e" stroke-width="0.7"/>
<line x1="67.8" y1="361.4" x2="67.8" y2="372.4" stroke="#d40f1e" stroke-width="0.7"/>
<line x1="66.2" y1="361.4" x2="69.4" y2="361.4" stroke="#d40f1e" stroke-width="0.7"/>
<line x1="66.2" y1="372.4" x2="69.4" y2="372.4" stroke="#d40f1e" stroke-width="0.7"/>
<line x1="84.3" y1="354.52" x2="84.3" y2="366.52" stroke="#d40f1e" stroke-width="0.7"/>
<line x1="82.7" y1="354.52" x2="85.9" y2="354.52" stroke="#d40f1e" stroke-width="0.7"/>
<line x1="82.7" y1="366.52" x2="85.9" y2="366.52" stroke="#d40f1e" stroke-width="0.7"/>
<line x1="100.8" y1="349.27" x2="100.8" y2="363.27" stroke="#d40f1e" stroke-width="0.7"/>
<line x1="99.2" y1="349.27" x2="102.4" y2="349.27" stroke="#d40f1e" stroke-width="0.7"/>
<line x1="99.2" y1="363.27" x2="102.4" y2="363.27" stroke="#d40f1e" stroke-width="0.7"/>
<line x1="133.8" y1="347.85" x2="133.8" y2="361.85" stroke="#d40f1e" stroke-width="0.7"/>
<line x1="132.2" y1="347.85" x2="135.4" y2="347.85" stroke="#d40f1e" stroke-width="0.7"/>
<line x1="132.2" y1="361.85" x2="135.4" y2="361.85" stroke="#d40f1e" stroke-width="0.7"/>
<line x1="41.4" y1="391.43" x2="41.4" y2="393.43" stroke="#d40f1e" stroke-width="0.7"/>
<line x1="39.8" y1="391.43" x2="43" y2="391.43" stroke="#d40f1e" stroke-width="0.7"/>
<line x1="39.8" y1="393.43" x2="43" y2="393.43" stroke="#d40f1e" stroke-width="0.7"/>
<line x1="44.7" y1="388.8" x2="44.7" y2="391.8" stroke="#d40f1e" stroke-width="0.7"/>
<line x1="43.1" y1="388.8" x2="46.3" y2="388.8" stroke="#d40f1e" stroke-width="0.7"/>
<line x1="43.1" y1="391.8" x2="46.3" y2="391.8" stroke="#d40f1e" stroke-width="0.7"/>
<line x1="48" y1="385.47" x2="48" y2="389.47" stroke="#d40f1e" stroke-width="0.7"/>
<line x1="46.4" y1="385.47" x2="49.6" y2="385.47" stroke="#d40f1e" stroke-width="0.7"/>
<line x1="46.4" y1="389.47" x2="49.6" y2="389.47" stroke="#d40f1e" stroke-width="0.7"/>
<line x1="51.3" y1="382.34" x2="51.3" y2="388.34" stroke="#d40f1e" stroke-width="0.7"/>
<line x1="49.7" y1="382.34" x2="52.9" y2="382.34" stroke="#d40f1e" stroke-width="0.7"/>
<line x1="49.7" y1="388.34" x2="52.9" y2="388.34" stroke="#d40f1e" stroke-width="0.7"/>
<line x1="67.8" y1="369.7" x2="67.8" y2="379.7" stroke="#d40f1e" stroke-width="0.7"/>
<line x1="66.2" y1="369.7" x2="69.4" y2="369.7" stroke="#d40f1e" stroke-width="0.7"/>
<line x1="66.2" y1="379.7" x2="69.4" y2="379.7" stroke="#d40f1e" stroke-width="0.7"/>
<line x1="84.3" y1="362.32" x2="84.3" y2="374.32" stroke="#d40f1e" stroke-width="0.7"/>
<line x1="82.7" y1="362.32" x2="85.9" y2="362.32" stroke="#d40f1e" stroke-width="0.7"/>
<line x1="82.7" y1="374.32" x2="85.9" y2="374.32" stroke="#d40f1e" stroke-width="0.7"/>
<line x1="100.8" y1="357.15" x2="100.8" y2="368.15" stroke="#d40f1e" stroke-width="0.7"/>
<line x1="99.2" y1="357.15" x2="102.4" y2="357.15" stroke="#d40f1e" stroke-width="0.7"/>
<line x1="99.2" y1="368.15" x2="102.4" y2="368.15" stroke="#d40f1e" stroke-width="0.7"/>
<line x1="133.8" y1="354.31" x2="133.8" y2="365.31" stroke="#d40f1e" stroke-width="0.7"/>
<line x1="132.2" y1="354.31" x2="135.4" y2="354.31" stroke="#d40f1e" stroke-width="0.7"/>
<line x1="132.2" y1="365.31" x2="135.4" y2="365.31" stroke="#d40f1e" stroke-width="0.7"/>
<path d="M31.2 403.14L33.25 405.19L31.2 407.24L29.15 405.19Z" fill="#fff" stroke="#d40f1e" stroke-width="0.9"/>
<path d="M34.8 400.3L36.85 402.35L34.8 404.4L32.75 402.35Z" fill="#fff" stroke="#d40f1e" stroke-width="0.9"/>
<path d="M38.1 394.63L40.15 396.68L38.1 398.73L36.05 396.68Z" fill="#fff" stroke="#d40f1e" stroke-width="0.9"/>
<path d="M41.4 390.38L43.45 392.43L41.4 394.48L39.35 392.43Z" fill="#fff" stroke="#d40f1e" stroke-width="0.9"/>
<path d="M44.7 388.25L46.75 390.3L44.7 392.35L42.65 390.3Z" fill="#fff" stroke="#d40f1e" stroke-width="0.9"/>
<path d="M48 385.42L50.05 387.47L48 389.52L45.95 387.47Z" fill="#fff" stroke="#d40f1e" stroke-width="0.9"/>
<path d="M51.3 383.29L53.35 385.34L51.3 387.39L49.25 385.34Z" fill="#fff" stroke="#d40f1e" stroke-width="0.9"/>
<path d="M67.8 372.65L69.85 374.7L67.8 376.75L65.75 374.7Z" fill="#fff" stroke="#d40f1e" stroke-width="0.9"/>
<path d="M84.3 366.27L86.35 368.32L84.3 370.37L82.25 368.32Z" fill="#fff" stroke="#d40f1e" stroke-width="0.9"/>
<path d="M100.8 360.6L102.85 362.65L100.8 364.7L98.75 362.65Z" fill="#fff" stroke="#d40f1e" stroke-width="0.9"/>
<path d="M133.8 357.76L135.85 359.81L133.8 361.87L131.75 359.81Z" fill="#fff" stroke="#d40f1e" stroke-width="0.9"/>
<path d="M31.2 403.14L33.25 405.19L31.2 407.24L29.15 405.19Z" fill="#d40f1e" stroke="#d40f1e" stroke-width="0.2"/>
<path d="M34.8 400.3L36.85 402.35L34.8 404.4L32.75 402.35Z" fill="#d40f1e" stroke="#d40f1e" stroke-width="0.2"/>
<path d="M38.1 392.51L40.15 394.56L38.1 396.61L36.05 394.56Z" fill="#d40f1e" stroke="#d40f1e" stroke-width="0.2"/>
<path d="M41.4 387.54L43.45 389.59L41.4 391.64L39.35 389.59Z" fill="#d40f1e" stroke="#d40f1e" stroke-width="0.2"/>
<path d="M44.7 382.58L46.75 384.63L44.7 386.68L42.65 384.63Z" fill="#d40f1e" stroke="#d40f1e" stroke-width="0.2"/>
<path d="M48 379.03L50.05 381.08L48 383.13L45.95 381.08Z" fill="#d40f1e" stroke="#d40f1e" stroke-width="0.2"/>
<path d="M51.3 375.49L53.35 377.54L51.3 379.59L49.25 377.54Z" fill="#d40f1e" stroke="#d40f1e" stroke-width="0.2"/>
<path d="M67.8 364.85L69.85 366.9L67.8 368.95L65.75 366.9Z" fill="#d40f1e" stroke="#d40f1e" stroke-width="0.2"/>
<path d="M84.3 358.47L86.35 360.52L84.3 362.57L82.25 360.52Z" fill="#d40f1e" stroke="#d40f1e" stroke-width="0.2"/>
<path d="M100.8 354.22L102.85 356.27L100.8 358.32L98.75 356.27Z" fill="#d40f1e" stroke="#d40f1e" stroke-width="0.2"/>
<path d="M133.8 352.8L135.85 354.85L133.8 356.9L131.75 354.85Z" fill="#d40f1e" stroke="#d40f1e" stroke-width="0.2"/>
<path d="M28.5 334.5V405.9H135.2" fill="none" stroke="#2a2a2a" stroke-width="1"/>
<line x1="28.5" y1="405.9" x2="30.8" y2="405.9" stroke="#2a2a2a" stroke-width="1"/>
<text x="26.7" y="408.1" font-size="6.3" text-anchor="end" fill="#1a1a1a" textLength="3.5" lengthAdjust="spacingAndGlyphs">0</text>
<line x1="28.5" y1="391.72" x2="30.8" y2="391.72" stroke="#2a2a2a" stroke-width="1"/>
<text x="26.7" y="393.92" font-size="6.3" text-anchor="end" fill="#1a1a1a" textLength="3.5" lengthAdjust="spacingAndGlyphs">2</text>
<line x1="28.5" y1="377.54" x2="30.8" y2="377.54" stroke="#2a2a2a" stroke-width="1"/>
<text x="26.7" y="379.74" font-size="6.3" text-anchor="end" fill="#1a1a1a" textLength="3.5" lengthAdjust="spacingAndGlyphs">4</text>
<line x1="28.5" y1="363.36" x2="30.8" y2="363.36" stroke="#2a2a2a" stroke-width="1"/>
<text x="26.7" y="365.56" font-size="6.3" text-anchor="end" fill="#1a1a1a" textLength="3.5" lengthAdjust="spacingAndGlyphs">6</text>
<line x1="28.5" y1="349.18" x2="30.8" y2="349.18" stroke="#2a2a2a" stroke-width="1"/>
<text x="26.7" y="351.38" font-size="6.3" text-anchor="end" fill="#1a1a1a" textLength="3.5" lengthAdjust="spacingAndGlyphs">8</text>
<line x1="28.5" y1="335" x2="30.8" y2="335" stroke="#2a2a2a" stroke-width="1"/>
<text x="26.7" y="337.2" font-size="6.3" text-anchor="end" fill="#1a1a1a" textLength="7" lengthAdjust="spacingAndGlyphs">10</text>
<line x1="31.2" y1="405.9" x2="31.2" y2="408.5" stroke="#2a2a2a" stroke-width="1"/>
<text x="31.5" y="417.2" font-size="6.3" text-anchor="middle" fill="#1a1a1a" textLength="9.2" lengthAdjust="spacingAndGlyphs">Bkr</text>
<line x1="51.3" y1="405.9" x2="51.3" y2="408.5" stroke="#2a2a2a" stroke-width="1"/>
<text x="51.5" y="417.2" font-size="6.3" text-anchor="middle" fill="#1a1a1a" textLength="7.5" lengthAdjust="spacingAndGlyphs">10'</text>
<line x1="67.8" y1="405.9" x2="67.8" y2="408.5" stroke="#2a2a2a" stroke-width="1"/>
<text x="68" y="417.2" font-size="6.3" text-anchor="middle" fill="#1a1a1a" textLength="7.5" lengthAdjust="spacingAndGlyphs">20'</text>
<line x1="84.3" y1="405.9" x2="84.3" y2="408.5" stroke="#2a2a2a" stroke-width="1"/>
<text x="84.5" y="417.2" font-size="6.3" text-anchor="middle" fill="#1a1a1a" textLength="7.5" lengthAdjust="spacingAndGlyphs">30'</text>
<line x1="100.8" y1="405.9" x2="100.8" y2="408.5" stroke="#2a2a2a" stroke-width="1"/>
<text x="101" y="417.2" font-size="6.3" text-anchor="middle" fill="#1a1a1a" textLength="7.5" lengthAdjust="spacingAndGlyphs">40'</text>
<line x1="117.3" y1="405.9" x2="117.3" y2="408.5" stroke="#2a2a2a" stroke-width="1"/>
<text x="117.5" y="417.2" font-size="6.3" text-anchor="middle" fill="#1a1a1a" textLength="7.5" lengthAdjust="spacingAndGlyphs">50'</text>
<line x1="133.8" y1="405.9" x2="133.8" y2="408.5" stroke="#2a2a2a" stroke-width="1"/>
<text x="134" y="417.2" font-size="6.3" text-anchor="middle" fill="#1a1a1a" textLength="7.5" lengthAdjust="spacingAndGlyphs">60'</text>
<text x="68.3" y="425.3" font-size="6.8" text-anchor="start" fill="#1a1a1a" textLength="13.6" lengthAdjust="spacingAndGlyphs">Time</text>
<text x="84.8" y="425.3" font-size="6.8" text-anchor="start" fill="#1a1a1a" textLength="15" lengthAdjust="spacingAndGlyphs">(min)</text>
<text x="84" y="435.3" font-size="7.6" text-anchor="middle" fill="#111" textLength="10.4" lengthAdjust="spacingAndGlyphs" font-weight="bold">(g)</text>
<text x="83.2" y="334.1" font-size="6.8" text-anchor="middle" fill="#1a1a1a" textLength="16.4" lengthAdjust="spacingAndGlyphs">eAMP</text>
<text x="0" y="0" font-size="6.8" text-anchor="middle" fill="#1a1a1a" textLength="52.5" lengthAdjust="spacingAndGlyphs" transform="translate(10.7,372.6) rotate(-90)">% of Total purines</text>
<line x1="137.3" y1="363" x2="144.3" y2="363" stroke="#d40f1e" stroke-width="0.8" stroke-dasharray="1,1.1"/>
<path d="M140.9 360.95L142.95 363L140.9 365.05L138.85 363Z" fill="#d40f1e" stroke="#d40f1e" stroke-width="0.2"/>
<line x1="137.3" y1="372.5" x2="144.3" y2="372.5" stroke="#d40f1e" stroke-width="0.8" stroke-dasharray="1,1.1"/>
<path d="M140.9 370.45L142.95 372.5L140.9 374.55L138.85 372.5Z" fill="#fff" stroke="#d40f1e" stroke-width="0.9"/>
<text x="146.4" y="365.4" font-size="6.8" text-anchor="start" fill="#1a1a1a" textLength="21.2" lengthAdjust="spacingAndGlyphs">Vehicle</text>
<text x="146.4" y="375.3" font-size="6.8" text-anchor="start" fill="#1a1a1a" textLength="22.6" lengthAdjust="spacingAndGlyphs">GsMTx4</text>
<text x="173.6" y="375.1" font-size="6.4" text-anchor="start" fill="#1a1a1a">+</text>
<text x="146.4" y="382.9" font-size="6.8" text-anchor="start" fill="#1a1a1a" textLength="29.6" lengthAdjust="spacingAndGlyphs">D-GsMTx4</text>
<polyline points="210.7,405.96 214.2,404.65 217.54,401.6 220.88,398.83 224.22,396.35 227.56,394.32 230.9,392.57 247.6,387.04 264.3,384.27 281,382.96 314.4,381.36" fill="none" stroke="#d40f1e" stroke-width="0.75"/>
<polyline points="210.7,405.96 214.2,404.65 217.54,396.35 220.88,388.93 224.22,382.81 227.56,380.63 230.9,377.86 247.6,369.85 264.3,366.65 281,364.47 314.4,367.09" fill="none" stroke="#d40f1e" stroke-width="0.75"/>
<line x1="230.9" y1="391.57" x2="230.9" y2="393.57" stroke="#d40f1e" stroke-width="0.7"/>
<line x1="229.3" y1="391.57" x2="232.5" y2="391.57" stroke="#d40f1e" stroke-width="0.7"/>
<line x1="229.3" y1="393.57" x2="232.5" y2="393.57" stroke="#d40f1e" stroke-width="0.7"/>
<line x1="247.6" y1="384.04" x2="247.6" y2="390.04" stroke="#d40f1e" stroke-width="0.7"/>
<line x1="246" y1="384.04" x2="249.2" y2="384.04" stroke="#d40f1e" stroke-width="0.7"/>
<line x1="246" y1="390.04" x2="249.2" y2="390.04" stroke="#d40f1e" stroke-width="0.7"/>
<line x1="264.3" y1="380.37" x2="264.3" y2="388.17" stroke="#d40f1e" stroke-width="0.7"/>
<line x1="262.7" y1="380.37" x2="265.9" y2="380.37" stroke="#d40f1e" stroke-width="0.7"/>
<line x1="262.7" y1="388.17" x2="265.9" y2="388.17" stroke="#d40f1e" stroke-width="0.7"/>
<line x1="281" y1="379.06" x2="281" y2="386.86" stroke="#d40f1e" stroke-width="0.7"/>
<line x1="279.4" y1="379.06" x2="282.6" y2="379.06" stroke="#d40f1e" stroke-width="0.7"/>
<line x1="279.4" y1="386.86" x2="282.6" y2="386.86" stroke="#d40f1e" stroke-width="0.7"/>
<line x1="314.4" y1="378.06" x2="314.4" y2="384.66" stroke="#d40f1e" stroke-width="0.7"/>
<line x1="312.8" y1="378.06" x2="316" y2="378.06" stroke="#d40f1e" stroke-width="0.7"/>
<line x1="312.8" y1="384.66" x2="316" y2="384.66" stroke="#d40f1e" stroke-width="0.7"/>
<line x1="217.54" y1="393.35" x2="217.54" y2="399.35" stroke="#d40f1e" stroke-width="0.7"/>
<line x1="215.94" y1="393.35" x2="219.14" y2="393.35" stroke="#d40f1e" stroke-width="0.7"/>
<line x1="215.94" y1="399.35" x2="219.14" y2="399.35" stroke="#d40f1e" stroke-width="0.7"/>
<line x1="220.88" y1="384.93" x2="220.88" y2="392.93" stroke="#d40f1e" stroke-width="0.7"/>
<line x1="219.28" y1="384.93" x2="222.48" y2="384.93" stroke="#d40f1e" stroke-width="0.7"/>
<line x1="219.28" y1="392.93" x2="222.48" y2="392.93" stroke="#d40f1e" stroke-width="0.7"/>
<line x1="224.22" y1="373.31" x2="224.22" y2="392.31" stroke="#d40f1e" stroke-width="0.7"/>
<line x1="222.62" y1="373.31" x2="225.82" y2="373.31" stroke="#d40f1e" stroke-width="0.7"/>
<line x1="222.62" y1="392.31" x2="225.82" y2="392.31" stroke="#d40f1e" stroke-width="0.7"/>
<line x1="227.56" y1="372.63" x2="227.56" y2="388.63" stroke="#d40f1e" stroke-width="0.7"/>
<line x1="225.96" y1="372.63" x2="229.16" y2="372.63" stroke="#d40f1e" stroke-width="0.7"/>
<line x1="225.96" y1="388.63" x2="229.16" y2="388.63" stroke="#d40f1e" stroke-width="0.7"/>
<line x1="230.9" y1="369.86" x2="230.9" y2="385.86" stroke="#d40f1e" stroke-width="0.7"/>
<line x1="229.3" y1="369.86" x2="232.5" y2="369.86" stroke="#d40f1e" stroke-width="0.7"/>
<line x1="229.3" y1="385.86" x2="232.5" y2="385.86" stroke="#d40f1e" stroke-width="0.7"/>
<line x1="247.6" y1="361.65" x2="247.6" y2="378.05" stroke="#d40f1e" stroke-width="0.7"/>
<line x1="246" y1="361.65" x2="249.2" y2="361.65" stroke="#d40f1e" stroke-width="0.7"/>
<line x1="246" y1="378.05" x2="249.2" y2="378.05" stroke="#d40f1e" stroke-width="0.7"/>
<line x1="264.3" y1="360.25" x2="264.3" y2="373.05" stroke="#d40f1e" stroke-width="0.7"/>
<line x1="262.7" y1="360.25" x2="265.9" y2="360.25" stroke="#d40f1e" stroke-width="0.7"/>
<line x1="262.7" y1="373.05" x2="265.9" y2="373.05" stroke="#d40f1e" stroke-width="0.7"/>
<line x1="281" y1="358.67" x2="281" y2="370.27" stroke="#d40f1e" stroke-width="0.7"/>
<line x1="279.4" y1="358.67" x2="282.6" y2="358.67" stroke="#d40f1e" stroke-width="0.7"/>
<line x1="279.4" y1="370.27" x2="282.6" y2="370.27" stroke="#d40f1e" stroke-width="0.7"/>
<line x1="314.4" y1="362.29" x2="314.4" y2="371.89" stroke="#d40f1e" stroke-width="0.7"/>
<line x1="312.8" y1="362.29" x2="316" y2="362.29" stroke="#d40f1e" stroke-width="0.7"/>
<line x1="312.8" y1="371.89" x2="316" y2="371.89" stroke="#d40f1e" stroke-width="0.7"/>
<path d="M210.7 403.91L212.75 405.96L210.7 408.01L208.65 405.96Z" fill="#fff" stroke="#d40f1e" stroke-width="0.9"/>
<path d="M214.2 402.6L216.25 404.65L214.2 406.7L212.15 404.65Z" fill="#fff" stroke="#d40f1e" stroke-width="0.9"/>
<path d="M217.54 394.3L219.59 396.35L217.54 398.4L215.49 396.35Z" fill="#fff" stroke="#d40f1e" stroke-width="0.9"/>
<path d="M220.88 386.88L222.93 388.93L220.88 390.98L218.83 388.93Z" fill="#fff" stroke="#d40f1e" stroke-width="0.9"/>
<path d="M224.22 380.76L226.27 382.81L224.22 384.86L222.17 382.81Z" fill="#fff" stroke="#d40f1e" stroke-width="0.9"/>
<path d="M227.56 378.58L229.61 380.63L227.56 382.68L225.51 380.63Z" fill="#fff" stroke="#d40f1e" stroke-width="0.9"/>
<path d="M230.9 375.81L232.95 377.86L230.9 379.91L228.85 377.86Z" fill="#fff" stroke="#d40f1e" stroke-width="0.9"/>
<path d="M247.6 367.8L249.65 369.85L247.6 371.9L245.55 369.85Z" fill="#fff" stroke="#d40f1e" stroke-width="0.9"/>
<path d="M264.3 364.6L266.35 366.65L264.3 368.7L262.25 366.65Z" fill="#fff" stroke="#d40f1e" stroke-width="0.9"/>
<path d="M281 362.42L283.05 364.47L281 366.52L278.95 364.47Z" fill="#fff" stroke="#d40f1e" stroke-width="0.9"/>
<path d="M314.4 365.04L316.45 367.09L314.4 369.14L312.35 367.09Z" fill="#fff" stroke="#d40f1e" stroke-width="0.9"/>
<path d="M210.7 403.91L212.75 405.96L210.7 408.01L208.65 405.96Z" fill="#d40f1e" stroke="#d40f1e" stroke-width="0.2"/>
<path d="M214.2 402.6L216.25 404.65L214.2 406.7L212.15 404.65Z" fill="#d40f1e" stroke="#d40f1e" stroke-width="0.2"/>
<path d="M217.54 399.55L219.59 401.6L217.54 403.65L215.49 401.6Z" fill="#d40f1e" stroke="#d40f1e" stroke-width="0.2"/>
<path d="M220.88 396.78L222.93 398.83L220.88 400.88L218.83 398.83Z" fill="#d40f1e" stroke="#d40f1e" stroke-width="0.2"/>
<path d="M224.22 394.3L226.27 396.35L224.22 398.4L222.17 396.35Z" fill="#d40f1e" stroke="#d40f1e" stroke-width="0.2"/>
<path d="M227.56 392.27L229.61 394.32L227.56 396.37L225.51 394.32Z" fill="#d40f1e" stroke="#d40f1e" stroke-width="0.2"/>
<path d="M230.9 390.52L232.95 392.57L230.9 394.62L228.85 392.57Z" fill="#d40f1e" stroke="#d40f1e" stroke-width="0.2"/>
<path d="M247.6 384.99L249.65 387.04L247.6 389.09L245.55 387.04Z" fill="#d40f1e" stroke="#d40f1e" stroke-width="0.2"/>
<path d="M264.3 382.22L266.35 384.27L264.3 386.32L262.25 384.27Z" fill="#d40f1e" stroke="#d40f1e" stroke-width="0.2"/>
<path d="M281 380.91L283.05 382.96L281 385.01L278.95 382.96Z" fill="#d40f1e" stroke="#d40f1e" stroke-width="0.2"/>
<path d="M314.4 379.31L316.45 381.36L314.4 383.41L312.35 381.36Z" fill="#d40f1e" stroke="#d40f1e" stroke-width="0.2"/>
<circle cx="247.6" cy="358.5" r="0.95" fill="#111"/>
<circle cx="264.3" cy="356.8" r="0.95" fill="#111"/>
<circle cx="281" cy="355.9" r="0.95" fill="#111"/>
<path d="M207.4 333.1V406.4H315.8" fill="none" stroke="#2a2a2a" stroke-width="1"/>
<line x1="207.4" y1="406.4" x2="209.7" y2="406.4" stroke="#2a2a2a" stroke-width="1"/>
<text x="206.6" y="409.2" font-size="6.3" text-anchor="end" fill="#1a1a1a" textLength="3.5" lengthAdjust="spacingAndGlyphs">0</text>
<line x1="207.4" y1="391.84" x2="209.7" y2="391.84" stroke="#2a2a2a" stroke-width="1"/>
<text x="205.6" y="394.8" font-size="6.3" text-anchor="end" fill="#1a1a1a" textLength="7" lengthAdjust="spacingAndGlyphs">10</text>
<line x1="207.4" y1="377.28" x2="209.7" y2="377.28" stroke="#2a2a2a" stroke-width="1"/>
<text x="205.6" y="380.3" font-size="6.3" text-anchor="end" fill="#1a1a1a" textLength="7" lengthAdjust="spacingAndGlyphs">20</text>
<line x1="207.4" y1="362.72" x2="209.7" y2="362.72" stroke="#2a2a2a" stroke-width="1"/>
<text x="205.6" y="365.8" font-size="6.3" text-anchor="end" fill="#1a1a1a" textLength="7" lengthAdjust="spacingAndGlyphs">30</text>
<line x1="207.4" y1="348.16" x2="209.7" y2="348.16" stroke="#2a2a2a" stroke-width="1"/>
<text x="205.6" y="351.4" font-size="6.3" text-anchor="end" fill="#1a1a1a" textLength="7" lengthAdjust="spacingAndGlyphs">40</text>
<line x1="207.4" y1="333.6" x2="209.7" y2="333.6" stroke="#2a2a2a" stroke-width="1"/>
<text x="205.6" y="337" font-size="6.3" text-anchor="end" fill="#1a1a1a" textLength="7" lengthAdjust="spacingAndGlyphs">50</text>
<line x1="210.7" y1="406.4" x2="210.7" y2="409" stroke="#2a2a2a" stroke-width="1"/>
<text x="211" y="416.5" font-size="6.3" text-anchor="middle" fill="#1a1a1a" textLength="9.2" lengthAdjust="spacingAndGlyphs">Bkr</text>
<line x1="230.9" y1="406.4" x2="230.9" y2="409" stroke="#2a2a2a" stroke-width="1"/>
<text x="231.1" y="416.5" font-size="6.3" text-anchor="middle" fill="#1a1a1a" textLength="7.5" lengthAdjust="spacingAndGlyphs">10'</text>
<line x1="247.6" y1="406.4" x2="247.6" y2="409" stroke="#2a2a2a" stroke-width="1"/>
<text x="247.8" y="416.5" font-size="6.3" text-anchor="middle" fill="#1a1a1a" textLength="7.5" lengthAdjust="spacingAndGlyphs">20'</text>
<line x1="264.3" y1="406.4" x2="264.3" y2="409" stroke="#2a2a2a" stroke-width="1"/>
<text x="264.5" y="416.5" font-size="6.3" text-anchor="middle" fill="#1a1a1a" textLength="7.5" lengthAdjust="spacingAndGlyphs">30'</text>
<line x1="281" y1="406.4" x2="281" y2="409" stroke="#2a2a2a" stroke-width="1"/>
<text x="281.2" y="416.5" font-size="6.3" text-anchor="middle" fill="#1a1a1a" textLength="7.5" lengthAdjust="spacingAndGlyphs">40'</text>
<line x1="297.7" y1="406.4" x2="297.7" y2="409" stroke="#2a2a2a" stroke-width="1"/>
<text x="297.9" y="416.5" font-size="6.3" text-anchor="middle" fill="#1a1a1a" textLength="7.5" lengthAdjust="spacingAndGlyphs">50'</text>
<line x1="314.4" y1="406.4" x2="314.4" y2="409" stroke="#2a2a2a" stroke-width="1"/>
<text x="314.6" y="416.5" font-size="6.3" text-anchor="middle" fill="#1a1a1a" textLength="7.5" lengthAdjust="spacingAndGlyphs">60'</text>
<text x="246.8" y="425.3" font-size="6.8" text-anchor="start" fill="#1a1a1a" textLength="13.6" lengthAdjust="spacingAndGlyphs">Time</text>
<text x="263.3" y="425.3" font-size="6.8" text-anchor="start" fill="#1a1a1a" textLength="15" lengthAdjust="spacingAndGlyphs">(min)</text>
<text x="262.1" y="434.3" font-size="7.6" text-anchor="middle" fill="#111" textLength="11" lengthAdjust="spacingAndGlyphs" font-weight="bold">(h)</text>
<text x="262" y="333.9" font-size="6.8" text-anchor="middle" fill="#1a1a1a" textLength="16.4" lengthAdjust="spacingAndGlyphs">eAMP</text>
<text x="0" y="0" font-size="6.8" text-anchor="middle" fill="#1a1a1a" textLength="52.5" lengthAdjust="spacingAndGlyphs" transform="translate(191.2,372.1) rotate(-90)">% of Total purines</text>
<line x1="318.7" y1="367.2" x2="325.7" y2="367.2" stroke="#d40f1e" stroke-width="0.8"/>
<path d="M322.3 365.15L324.35 367.2L322.3 369.25L320.25 367.2Z" fill="#d40f1e" stroke="#d40f1e" stroke-width="0.2"/>
<line x1="318.7" y1="376.7" x2="325.7" y2="376.7" stroke="#d40f1e" stroke-width="0.8"/>
<path d="M322.3 374.65L324.35 376.7L322.3 378.75L320.25 376.7Z" fill="#fff" stroke="#d40f1e" stroke-width="0.9"/>
<text x="329.1" y="369.6" font-size="6.8" text-anchor="start" fill="#1a1a1a" textLength="21.2" lengthAdjust="spacingAndGlyphs">Vehicle</text>
<text x="329.1" y="379.5" font-size="6.8" text-anchor="start" fill="#1a1a1a" textLength="22.6" lengthAdjust="spacingAndGlyphs">GsMTx4</text>
<text x="356.3" y="379.3" font-size="6.4" text-anchor="start" fill="#1a1a1a">+</text>
<text x="329.1" y="387.1" font-size="6.8" text-anchor="start" fill="#1a1a1a" textLength="29.6" lengthAdjust="spacingAndGlyphs">D-GsMTx4</text>
<polyline points="31.4,512.3 34.8,512.3 38.06,512.3 41.32,512.3 44.58,512.3 47.84,512.3 51.1,512.3 67.4,510.54 83.7,503.86 100,502.18 132.6,495.15" fill="none" stroke="#3ccc5c" stroke-width="0.7" stroke-dasharray="1,1.1"/>
<polyline points="31.4,512.3 34.8,512.3 38.06,512.3 41.32,512.3 44.58,512.3 47.84,512.3 51.1,512.3 67.4,512.3 83.7,508.78 100,507.66 132.6,502.18" fill="none" stroke="#3ccc5c" stroke-width="0.7" stroke-dasharray="1,1.1"/>
<line x1="83.7" y1="501.86" x2="83.7" y2="505.86" stroke="#3ccc5c" stroke-width="0.7"/>
<line x1="82.1" y1="501.86" x2="85.3" y2="501.86" stroke="#3ccc5c" stroke-width="0.7"/>
<line x1="82.1" y1="505.86" x2="85.3" y2="505.86" stroke="#3ccc5c" stroke-width="0.7"/>
<line x1="100" y1="499.18" x2="100" y2="505.18" stroke="#3ccc5c" stroke-width="0.7"/>
<line x1="98.4" y1="499.18" x2="101.6" y2="499.18" stroke="#3ccc5c" stroke-width="0.7"/>
<line x1="98.4" y1="505.18" x2="101.6" y2="505.18" stroke="#3ccc5c" stroke-width="0.7"/>
<line x1="132.6" y1="490.15" x2="132.6" y2="500.15" stroke="#3ccc5c" stroke-width="0.7"/>
<line x1="131" y1="490.15" x2="134.2" y2="490.15" stroke="#3ccc5c" stroke-width="0.7"/>
<line x1="131" y1="500.15" x2="134.2" y2="500.15" stroke="#3ccc5c" stroke-width="0.7"/>
<line x1="83.7" y1="507.28" x2="83.7" y2="510.28" stroke="#3ccc5c" stroke-width="0.7"/>
<line x1="82.1" y1="507.28" x2="85.3" y2="507.28" stroke="#3ccc5c" stroke-width="0.7"/>
<line x1="82.1" y1="510.28" x2="85.3" y2="510.28" stroke="#3ccc5c" stroke-width="0.7"/>
<line x1="100" y1="505.66" x2="100" y2="509.66" stroke="#3ccc5c" stroke-width="0.7"/>
<line x1="98.4" y1="505.66" x2="101.6" y2="505.66" stroke="#3ccc5c" stroke-width="0.7"/>
<line x1="98.4" y1="509.66" x2="101.6" y2="509.66" stroke="#3ccc5c" stroke-width="0.7"/>
<line x1="132.6" y1="497.58" x2="132.6" y2="506.78" stroke="#3ccc5c" stroke-width="0.7"/>
<line x1="131" y1="497.58" x2="134.2" y2="497.58" stroke="#3ccc5c" stroke-width="0.7"/>
<line x1="131" y1="506.78" x2="134.2" y2="506.78" stroke="#3ccc5c" stroke-width="0.7"/>
<path d="M28.95 510.46L33.85 510.46L31.4 514.5Z" fill="#fff" stroke="#12c235" stroke-width="0.9" stroke-linejoin="round"/>
<path d="M32.35 510.46L37.25 510.46L34.8 514.5Z" fill="#fff" stroke="#12c235" stroke-width="0.9" stroke-linejoin="round"/>
<path d="M35.61 510.46L40.51 510.46L38.06 514.5Z" fill="#fff" stroke="#12c235" stroke-width="0.9" stroke-linejoin="round"/>
<path d="M38.87 510.46L43.77 510.46L41.32 514.5Z" fill="#fff" stroke="#12c235" stroke-width="0.9" stroke-linejoin="round"/>
<path d="M42.13 510.46L47.03 510.46L44.58 514.5Z" fill="#fff" stroke="#12c235" stroke-width="0.9" stroke-linejoin="round"/>
<path d="M45.39 510.46L50.29 510.46L47.84 514.5Z" fill="#fff" stroke="#12c235" stroke-width="0.9" stroke-linejoin="round"/>
<path d="M48.65 510.46L53.55 510.46L51.1 514.5Z" fill="#fff" stroke="#12c235" stroke-width="0.9" stroke-linejoin="round"/>
<path d="M64.95 510.46L69.85 510.46L67.4 514.5Z" fill="#fff" stroke="#12c235" stroke-width="0.9" stroke-linejoin="round"/>
<path d="M81.25 506.95L86.15 506.95L83.7 510.99Z" fill="#fff" stroke="#12c235" stroke-width="0.9" stroke-linejoin="round"/>
<path d="M97.55 505.82L102.45 505.82L100 509.87Z" fill="#fff" stroke="#12c235" stroke-width="0.9" stroke-linejoin="round"/>
<path d="M130.15 500.34L135.05 500.34L132.6 504.38Z" fill="#fff" stroke="#12c235" stroke-width="0.9" stroke-linejoin="round"/>
<path d="M28.95 510.46L33.85 510.46L31.4 514.5Z" fill="#12c235" stroke="#12c235" stroke-width="0.2" stroke-linejoin="round"/>
<path d="M32.35 510.46L37.25 510.46L34.8 514.5Z" fill="#12c235" stroke="#12c235" stroke-width="0.2" stroke-linejoin="round"/>
<path d="M35.61 510.46L40.51 510.46L38.06 514.5Z" fill="#12c235" stroke="#12c235" stroke-width="0.2" stroke-linejoin="round"/>
<path d="M38.87 510.46L43.77 510.46L41.32 514.5Z" fill="#12c235" stroke="#12c235" stroke-width="0.2" stroke-linejoin="round"/>
<path d="M42.13 510.46L47.03 510.46L44.58 514.5Z" fill="#12c235" stroke="#12c235" stroke-width="0.2" stroke-linejoin="round"/>
<path d="M45.39 510.46L50.29 510.46L47.84 514.5Z" fill="#12c235" stroke="#12c235" stroke-width="0.2" stroke-linejoin="round"/>
<path d="M48.65 510.46L53.55 510.46L51.1 514.5Z" fill="#12c235" stroke="#12c235" stroke-width="0.2" stroke-linejoin="round"/>
<path d="M64.95 508.7L69.85 508.7L67.4 512.75Z" fill="#12c235" stroke="#12c235" stroke-width="0.2" stroke-linejoin="round"/>
<path d="M81.25 502.03L86.15 502.03L83.7 506.07Z" fill="#12c235" stroke="#12c235" stroke-width="0.2" stroke-linejoin="round"/>
<path d="M97.55 500.34L102.45 500.34L100 504.38Z" fill="#12c235" stroke="#12c235" stroke-width="0.2" stroke-linejoin="round"/>
<path d="M130.15 493.31L135.05 493.31L132.6 497.35Z" fill="#12c235" stroke="#12c235" stroke-width="0.2" stroke-linejoin="round"/>
<path d="M28.7 441.5V512.3H134" fill="none" stroke="#2a2a2a" stroke-width="1"/>
<line x1="28.7" y1="512.3" x2="31" y2="512.3" stroke="#2a2a2a" stroke-width="1"/>
<text x="26.9" y="514.5" font-size="6.3" text-anchor="end" fill="#1a1a1a" textLength="3.5" lengthAdjust="spacingAndGlyphs">0</text>
<line x1="28.7" y1="498.24" x2="31" y2="498.24" stroke="#2a2a2a" stroke-width="1"/>
<text x="26.9" y="500.44" font-size="6.3" text-anchor="end" fill="#1a1a1a" textLength="3.5" lengthAdjust="spacingAndGlyphs">2</text>
<line x1="28.7" y1="484.18" x2="31" y2="484.18" stroke="#2a2a2a" stroke-width="1"/>
<text x="26.9" y="486.38" font-size="6.3" text-anchor="end" fill="#1a1a1a" textLength="3.5" lengthAdjust="spacingAndGlyphs">4</text>
<line x1="28.7" y1="470.12" x2="31" y2="470.12" stroke="#2a2a2a" stroke-width="1"/>
<text x="26.9" y="472.32" font-size="6.3" text-anchor="end" fill="#1a1a1a" textLength="3.5" lengthAdjust="spacingAndGlyphs">6</text>
<line x1="28.7" y1="456.06" x2="31" y2="456.06" stroke="#2a2a2a" stroke-width="1"/>
<text x="26.9" y="458.26" font-size="6.3" text-anchor="end" fill="#1a1a1a" textLength="3.5" lengthAdjust="spacingAndGlyphs">8</text>
<line x1="28.7" y1="442" x2="31" y2="442" stroke="#2a2a2a" stroke-width="1"/>
<text x="26.9" y="444.2" font-size="6.3" text-anchor="end" fill="#1a1a1a" textLength="7" lengthAdjust="spacingAndGlyphs">10</text>
<line x1="31.4" y1="512.3" x2="31.4" y2="514.9" stroke="#2a2a2a" stroke-width="1"/>
<text x="31.7" y="524.1" font-size="6.3" text-anchor="middle" fill="#1a1a1a" textLength="9.2" lengthAdjust="spacingAndGlyphs">Bkr</text>
<line x1="51.1" y1="512.3" x2="51.1" y2="514.9" stroke="#2a2a2a" stroke-width="1"/>
<text x="51.3" y="524.1" font-size="6.3" text-anchor="middle" fill="#1a1a1a" textLength="7.5" lengthAdjust="spacingAndGlyphs">10'</text>
<line x1="67.4" y1="512.3" x2="67.4" y2="514.9" stroke="#2a2a2a" stroke-width="1"/>
<text x="67.6" y="524.1" font-size="6.3" text-anchor="middle" fill="#1a1a1a" textLength="7.5" lengthAdjust="spacingAndGlyphs">20'</text>
<line x1="83.7" y1="512.3" x2="83.7" y2="514.9" stroke="#2a2a2a" stroke-width="1"/>
<text x="83.9" y="524.1" font-size="6.3" text-anchor="middle" fill="#1a1a1a" textLength="7.5" lengthAdjust="spacingAndGlyphs">30'</text>
<line x1="100" y1="512.3" x2="100" y2="514.9" stroke="#2a2a2a" stroke-width="1"/>
<text x="100.2" y="524.1" font-size="6.3" text-anchor="middle" fill="#1a1a1a" textLength="7.5" lengthAdjust="spacingAndGlyphs">40'</text>
<line x1="116.3" y1="512.3" x2="116.3" y2="514.9" stroke="#2a2a2a" stroke-width="1"/>
<text x="116.5" y="524.1" font-size="6.3" text-anchor="middle" fill="#1a1a1a" textLength="7.5" lengthAdjust="spacingAndGlyphs">50'</text>
<line x1="132.6" y1="512.3" x2="132.6" y2="514.9" stroke="#2a2a2a" stroke-width="1"/>
<text x="132.8" y="524.1" font-size="6.3" text-anchor="middle" fill="#1a1a1a" textLength="7.5" lengthAdjust="spacingAndGlyphs">60'</text>
<text x="68.3" y="532.7" font-size="6.8" text-anchor="start" fill="#1a1a1a" textLength="13.6" lengthAdjust="spacingAndGlyphs">Time</text>
<text x="84.8" y="532.7" font-size="6.8" text-anchor="start" fill="#1a1a1a" textLength="15" lengthAdjust="spacingAndGlyphs">(min)</text>
<text x="83.8" y="542.5" font-size="7.6" text-anchor="middle" fill="#111" textLength="7" lengthAdjust="spacingAndGlyphs" font-weight="bold">(i)</text>
<text x="83" y="444.6" font-size="6.8" text-anchor="middle" fill="#1a1a1a" textLength="16.6" lengthAdjust="spacingAndGlyphs">eADO</text>
<text x="0" y="0" font-size="6.8" text-anchor="middle" fill="#1a1a1a" textLength="52.5" lengthAdjust="spacingAndGlyphs" transform="translate(10.7,478.5) rotate(-90)">% of Total purines</text>
<line x1="137.6" y1="465.4" x2="144.6" y2="465.4" stroke="#3ccc5c" stroke-width="0.8" stroke-dasharray="1,1.1"/>
<path d="M138.75 463.56L143.65 463.56L141.2 467.6Z" fill="#12c235" stroke="#12c235" stroke-width="0.2" stroke-linejoin="round"/>
<line x1="137.6" y1="474.9" x2="144.6" y2="474.9" stroke="#3ccc5c" stroke-width="0.8" stroke-dasharray="1,1.1"/>
<path d="M138.75 473.06L143.65 473.06L141.2 477.1Z" fill="#fff" stroke="#12c235" stroke-width="0.9" stroke-linejoin="round"/>
<text x="146.3" y="467.8" font-size="6.8" text-anchor="start" fill="#1a1a1a" textLength="21.2" lengthAdjust="spacingAndGlyphs">Vehicle</text>
<text x="146.3" y="477.7" font-size="6.8" text-anchor="start" fill="#1a1a1a" textLength="27.2" lengthAdjust="spacingAndGlyphs">GsMTx4+</text>
<text x="146.3" y="485.3" font-size="6.8" text-anchor="start" fill="#1a1a1a" textLength="29.6" lengthAdjust="spacingAndGlyphs">D-GsMTx4</text>
<polyline points="210.2,512.3 213.4,512.3 216.73,512.3 220.06,512.3 223.39,512.16 226.72,512.02 230.05,511.87 246.7,510.31 263.35,508.75 280,507.48 313.3,503.08" fill="none" stroke="#3ccc5c" stroke-width="0.7" stroke-dasharray="1,1.1"/>
<polyline points="210.2,512.3 213.4,512.3 216.73,511.87 220.06,511.45 223.39,510.88 226.72,510.31 230.05,509.46 246.7,504.64 263.35,498.83 280,494.29 313.3,482.38" fill="none" stroke="#3ccc5c" stroke-width="0.7" stroke-dasharray="1,1.1"/>
<line x1="263.35" y1="507.75" x2="263.35" y2="509.75" stroke="#3ccc5c" stroke-width="0.7"/>
<line x1="261.75" y1="507.75" x2="264.95" y2="507.75" stroke="#3ccc5c" stroke-width="0.7"/>
<line x1="261.75" y1="509.75" x2="264.95" y2="509.75" stroke="#3ccc5c" stroke-width="0.7"/>
<line x1="280" y1="506.28" x2="280" y2="508.68" stroke="#3ccc5c" stroke-width="0.7"/>
<line x1="278.4" y1="506.28" x2="281.6" y2="506.28" stroke="#3ccc5c" stroke-width="0.7"/>
<line x1="278.4" y1="508.68" x2="281.6" y2="508.68" stroke="#3ccc5c" stroke-width="0.7"/>
<line x1="313.3" y1="501.08" x2="313.3" y2="505.08" stroke="#3ccc5c" stroke-width="0.7"/>
<line x1="311.7" y1="501.08" x2="314.9" y2="501.08" stroke="#3ccc5c" stroke-width="0.7"/>
<line x1="311.7" y1="505.08" x2="314.9" y2="505.08" stroke="#3ccc5c" stroke-width="0.7"/>
<line x1="230.05" y1="508.46" x2="230.05" y2="510.46" stroke="#3ccc5c" stroke-width="0.7"/>
<line x1="228.45" y1="508.46" x2="231.65" y2="508.46" stroke="#3ccc5c" stroke-width="0.7"/>
<line x1="228.45" y1="510.46" x2="231.65" y2="510.46" stroke="#3ccc5c" stroke-width="0.7"/>
<line x1="246.7" y1="501.64" x2="246.7" y2="507.64" stroke="#3ccc5c" stroke-width="0.7"/>
<line x1="245.1" y1="501.64" x2="248.3" y2="501.64" stroke="#3ccc5c" stroke-width="0.7"/>
<line x1="245.1" y1="507.64" x2="248.3" y2="507.64" stroke="#3ccc5c" stroke-width="0.7"/>
<line x1="263.35" y1="493.33" x2="263.35" y2="504.33" stroke="#3ccc5c" stroke-width="0.7"/>
<line x1="261.75" y1="493.33" x2="264.95" y2="493.33" stroke="#3ccc5c" stroke-width="0.7"/>
<line x1="261.75" y1="504.33" x2="264.95" y2="504.33" stroke="#3ccc5c" stroke-width="0.7"/>
<line x1="280" y1="486.29" x2="280" y2="502.29" stroke="#3ccc5c" stroke-width="0.7"/>
<line x1="278.4" y1="486.29" x2="281.6" y2="486.29" stroke="#3ccc5c" stroke-width="0.7"/>
<line x1="278.4" y1="502.29" x2="281.6" y2="502.29" stroke="#3ccc5c" stroke-width="0.7"/>
<line x1="313.3" y1="472.38" x2="313.3" y2="492.38" stroke="#3ccc5c" stroke-width="0.7"/>
<line x1="311.7" y1="472.38" x2="314.9" y2="472.38" stroke="#3ccc5c" stroke-width="0.7"/>
<line x1="311.7" y1="492.38" x2="314.9" y2="492.38" stroke="#3ccc5c" stroke-width="0.7"/>
<path d="M207.75 510.46L212.65 510.46L210.2 514.5Z" fill="#fff" stroke="#12c235" stroke-width="0.9" stroke-linejoin="round"/>
<path d="M210.95 510.46L215.85 510.46L213.4 514.5Z" fill="#fff" stroke="#12c235" stroke-width="0.9" stroke-linejoin="round"/>
<path d="M214.28 510.04L219.18 510.04L216.73 514.08Z" fill="#fff" stroke="#12c235" stroke-width="0.9" stroke-linejoin="round"/>
<path d="M217.61 509.61L222.51 509.61L220.06 513.65Z" fill="#fff" stroke="#12c235" stroke-width="0.9" stroke-linejoin="round"/>
<path d="M220.94 509.04L225.84 509.04L223.39 513.09Z" fill="#fff" stroke="#12c235" stroke-width="0.9" stroke-linejoin="round"/>
<path d="M224.27 508.48L229.17 508.48L226.72 512.52Z" fill="#fff" stroke="#12c235" stroke-width="0.9" stroke-linejoin="round"/>
<path d="M227.6 507.63L232.5 507.63L230.05 511.67Z" fill="#fff" stroke="#12c235" stroke-width="0.9" stroke-linejoin="round"/>
<path d="M244.25 502.81L249.15 502.81L246.7 506.85Z" fill="#fff" stroke="#12c235" stroke-width="0.9" stroke-linejoin="round"/>
<path d="M260.9 496.99L265.8 496.99L263.35 501.03Z" fill="#fff" stroke="#12c235" stroke-width="0.9" stroke-linejoin="round"/>
<path d="M277.55 492.45L282.45 492.45L280 496.5Z" fill="#fff" stroke="#12c235" stroke-width="0.9" stroke-linejoin="round"/>
<path d="M310.85 480.54L315.75 480.54L313.3 484.59Z" fill="#fff" stroke="#12c235" stroke-width="0.9" stroke-linejoin="round"/>
<path d="M207.75 510.46L212.65 510.46L210.2 514.5Z" fill="#12c235" stroke="#12c235" stroke-width="0.2" stroke-linejoin="round"/>
<path d="M210.95 510.46L215.85 510.46L213.4 514.5Z" fill="#12c235" stroke="#12c235" stroke-width="0.2" stroke-linejoin="round"/>
<path d="M214.28 510.46L219.18 510.46L216.73 514.5Z" fill="#12c235" stroke="#12c235" stroke-width="0.2" stroke-linejoin="round"/>
<path d="M217.61 510.46L222.51 510.46L220.06 514.5Z" fill="#12c235" stroke="#12c235" stroke-width="0.2" stroke-linejoin="round"/>
<path d="M220.94 510.32L225.84 510.32L223.39 514.36Z" fill="#12c235" stroke="#12c235" stroke-width="0.2" stroke-linejoin="round"/>
<path d="M224.27 510.18L229.17 510.18L226.72 514.22Z" fill="#12c235" stroke="#12c235" stroke-width="0.2" stroke-linejoin="round"/>
<path d="M227.6 510.04L232.5 510.04L230.05 514.08Z" fill="#12c235" stroke="#12c235" stroke-width="0.2" stroke-linejoin="round"/>
<path d="M244.25 508.48L249.15 508.48L246.7 512.52Z" fill="#12c235" stroke="#12c235" stroke-width="0.2" stroke-linejoin="round"/>
<path d="M260.9 506.92L265.8 506.92L263.35 510.96Z" fill="#12c235" stroke="#12c235" stroke-width="0.2" stroke-linejoin="round"/>
<path d="M277.55 505.64L282.45 505.64L280 509.68Z" fill="#12c235" stroke="#12c235" stroke-width="0.2" stroke-linejoin="round"/>
<path d="M310.85 501.25L315.75 501.25L313.3 505.29Z" fill="#12c235" stroke="#12c235" stroke-width="0.2" stroke-linejoin="round"/>
<circle cx="280" cy="482.8" r="0.95" fill="#111"/>
<circle cx="308.95" cy="468.5" r="0.95" fill="#111"/>
<circle cx="311.85" cy="468.5" r="0.95" fill="#111"/>
<circle cx="314.75" cy="468.5" r="0.95" fill="#111"/>
<circle cx="317.65" cy="468.5" r="0.95" fill="#111"/>
<path d="M206.9 440.9V512.3H314.7" fill="none" stroke="#2a2a2a" stroke-width="1"/>
<line x1="206.9" y1="512.3" x2="209.2" y2="512.3" stroke="#2a2a2a" stroke-width="1"/>
<text x="206.2" y="514.6" font-size="6.3" text-anchor="end" fill="#1a1a1a" textLength="3.5" lengthAdjust="spacingAndGlyphs">0</text>
<line x1="206.9" y1="498.12" x2="209.2" y2="498.12" stroke="#2a2a2a" stroke-width="1"/>
<text x="205.1" y="500.32" font-size="6.3" text-anchor="end" fill="#1a1a1a" textLength="7" lengthAdjust="spacingAndGlyphs">10</text>
<line x1="206.9" y1="483.94" x2="209.2" y2="483.94" stroke="#2a2a2a" stroke-width="1"/>
<text x="205.1" y="486.14" font-size="6.3" text-anchor="end" fill="#1a1a1a" textLength="7" lengthAdjust="spacingAndGlyphs">20</text>
<line x1="206.9" y1="469.76" x2="209.2" y2="469.76" stroke="#2a2a2a" stroke-width="1"/>
<text x="205.1" y="471.96" font-size="6.3" text-anchor="end" fill="#1a1a1a" textLength="7" lengthAdjust="spacingAndGlyphs">30</text>
<line x1="206.9" y1="455.58" x2="209.2" y2="455.58" stroke="#2a2a2a" stroke-width="1"/>
<text x="205.1" y="457.78" font-size="6.3" text-anchor="end" fill="#1a1a1a" textLength="7" lengthAdjust="spacingAndGlyphs">40</text>
<line x1="206.9" y1="441.4" x2="209.2" y2="441.4" stroke="#2a2a2a" stroke-width="1"/>
<text x="205.1" y="443.6" font-size="6.3" text-anchor="end" fill="#1a1a1a" textLength="7" lengthAdjust="spacingAndGlyphs">50</text>
<line x1="210.2" y1="512.3" x2="210.2" y2="514.9" stroke="#2a2a2a" stroke-width="1"/>
<text x="210.5" y="524.2" font-size="6.3" text-anchor="middle" fill="#1a1a1a" textLength="9.2" lengthAdjust="spacingAndGlyphs">Bkr</text>
<line x1="230.05" y1="512.3" x2="230.05" y2="514.9" stroke="#2a2a2a" stroke-width="1"/>
<text x="230.25" y="524.2" font-size="6.3" text-anchor="middle" fill="#1a1a1a" textLength="7.5" lengthAdjust="spacingAndGlyphs">10'</text>
<line x1="246.7" y1="512.3" x2="246.7" y2="514.9" stroke="#2a2a2a" stroke-width="1"/>
<text x="246.9" y="524.2" font-size="6.3" text-anchor="middle" fill="#1a1a1a" textLength="7.5" lengthAdjust="spacingAndGlyphs">20'</text>
<line x1="263.35" y1="512.3" x2="263.35" y2="514.9" stroke="#2a2a2a" stroke-width="1"/>
<text x="263.55" y="524.2" font-size="6.3" text-anchor="middle" fill="#1a1a1a" textLength="7.5" lengthAdjust="spacingAndGlyphs">30'</text>
<line x1="280" y1="512.3" x2="280" y2="514.9" stroke="#2a2a2a" stroke-width="1"/>
<text x="280.2" y="524.2" font-size="6.3" text-anchor="middle" fill="#1a1a1a" textLength="7.5" lengthAdjust="spacingAndGlyphs">40'</text>
<line x1="296.65" y1="512.3" x2="296.65" y2="514.9" stroke="#2a2a2a" stroke-width="1"/>
<text x="296.85" y="524.2" font-size="6.3" text-anchor="middle" fill="#1a1a1a" textLength="7.5" lengthAdjust="spacingAndGlyphs">50'</text>
<line x1="313.3" y1="512.3" x2="313.3" y2="514.9" stroke="#2a2a2a" stroke-width="1"/>
<text x="313.5" y="524.2" font-size="6.3" text-anchor="middle" fill="#1a1a1a" textLength="7.5" lengthAdjust="spacingAndGlyphs">60'</text>
<text x="246.8" y="532.5" font-size="6.8" text-anchor="start" fill="#1a1a1a" textLength="13.6" lengthAdjust="spacingAndGlyphs">Time</text>
<text x="263.3" y="532.5" font-size="6.8" text-anchor="start" fill="#1a1a1a" textLength="15" lengthAdjust="spacingAndGlyphs">(min)</text>
<text x="262.1" y="543.4" font-size="7.6" text-anchor="middle" fill="#111" textLength="8.6" lengthAdjust="spacingAndGlyphs" font-weight="bold">(j)</text>
<text x="261.3" y="444.5" font-size="6.8" text-anchor="middle" fill="#1a1a1a" textLength="16.6" lengthAdjust="spacingAndGlyphs">eADO</text>
<text x="0" y="0" font-size="6.8" text-anchor="middle" fill="#1a1a1a" textLength="52.5" lengthAdjust="spacingAndGlyphs" transform="translate(191.2,478) rotate(-90)">% of Total purines</text>
<line x1="319.2" y1="464.8" x2="326.2" y2="464.8" stroke="#3ccc5c" stroke-width="0.8" stroke-dasharray="1,1.1"/>
<path d="M320.35 462.96L325.25 462.96L322.8 467Z" fill="#12c235" stroke="#12c235" stroke-width="0.2" stroke-linejoin="round"/>
<line x1="319.2" y1="474.3" x2="326.2" y2="474.3" stroke="#3ccc5c" stroke-width="0.8" stroke-dasharray="1,1.1"/>
<path d="M320.35 472.46L325.25 472.46L322.8 476.5Z" fill="#fff" stroke="#12c235" stroke-width="0.9" stroke-linejoin="round"/>
<text x="329.1" y="467.2" font-size="6.8" text-anchor="start" fill="#1a1a1a" textLength="21.2" lengthAdjust="spacingAndGlyphs">Vehicle</text>
<text x="329.1" y="477.1" font-size="6.8" text-anchor="start" fill="#1a1a1a" textLength="22.6" lengthAdjust="spacingAndGlyphs">GsMTx4</text>
<text x="356.3" y="476.9" font-size="6.4" text-anchor="start" fill="#1a1a1a">+</text>
<text x="329.1" y="484.7" font-size="6.8" text-anchor="start" fill="#1a1a1a" textLength="29.6" lengthAdjust="spacingAndGlyphs">D-GsMTx4</text>
</g>
</svg>
</body></html>
